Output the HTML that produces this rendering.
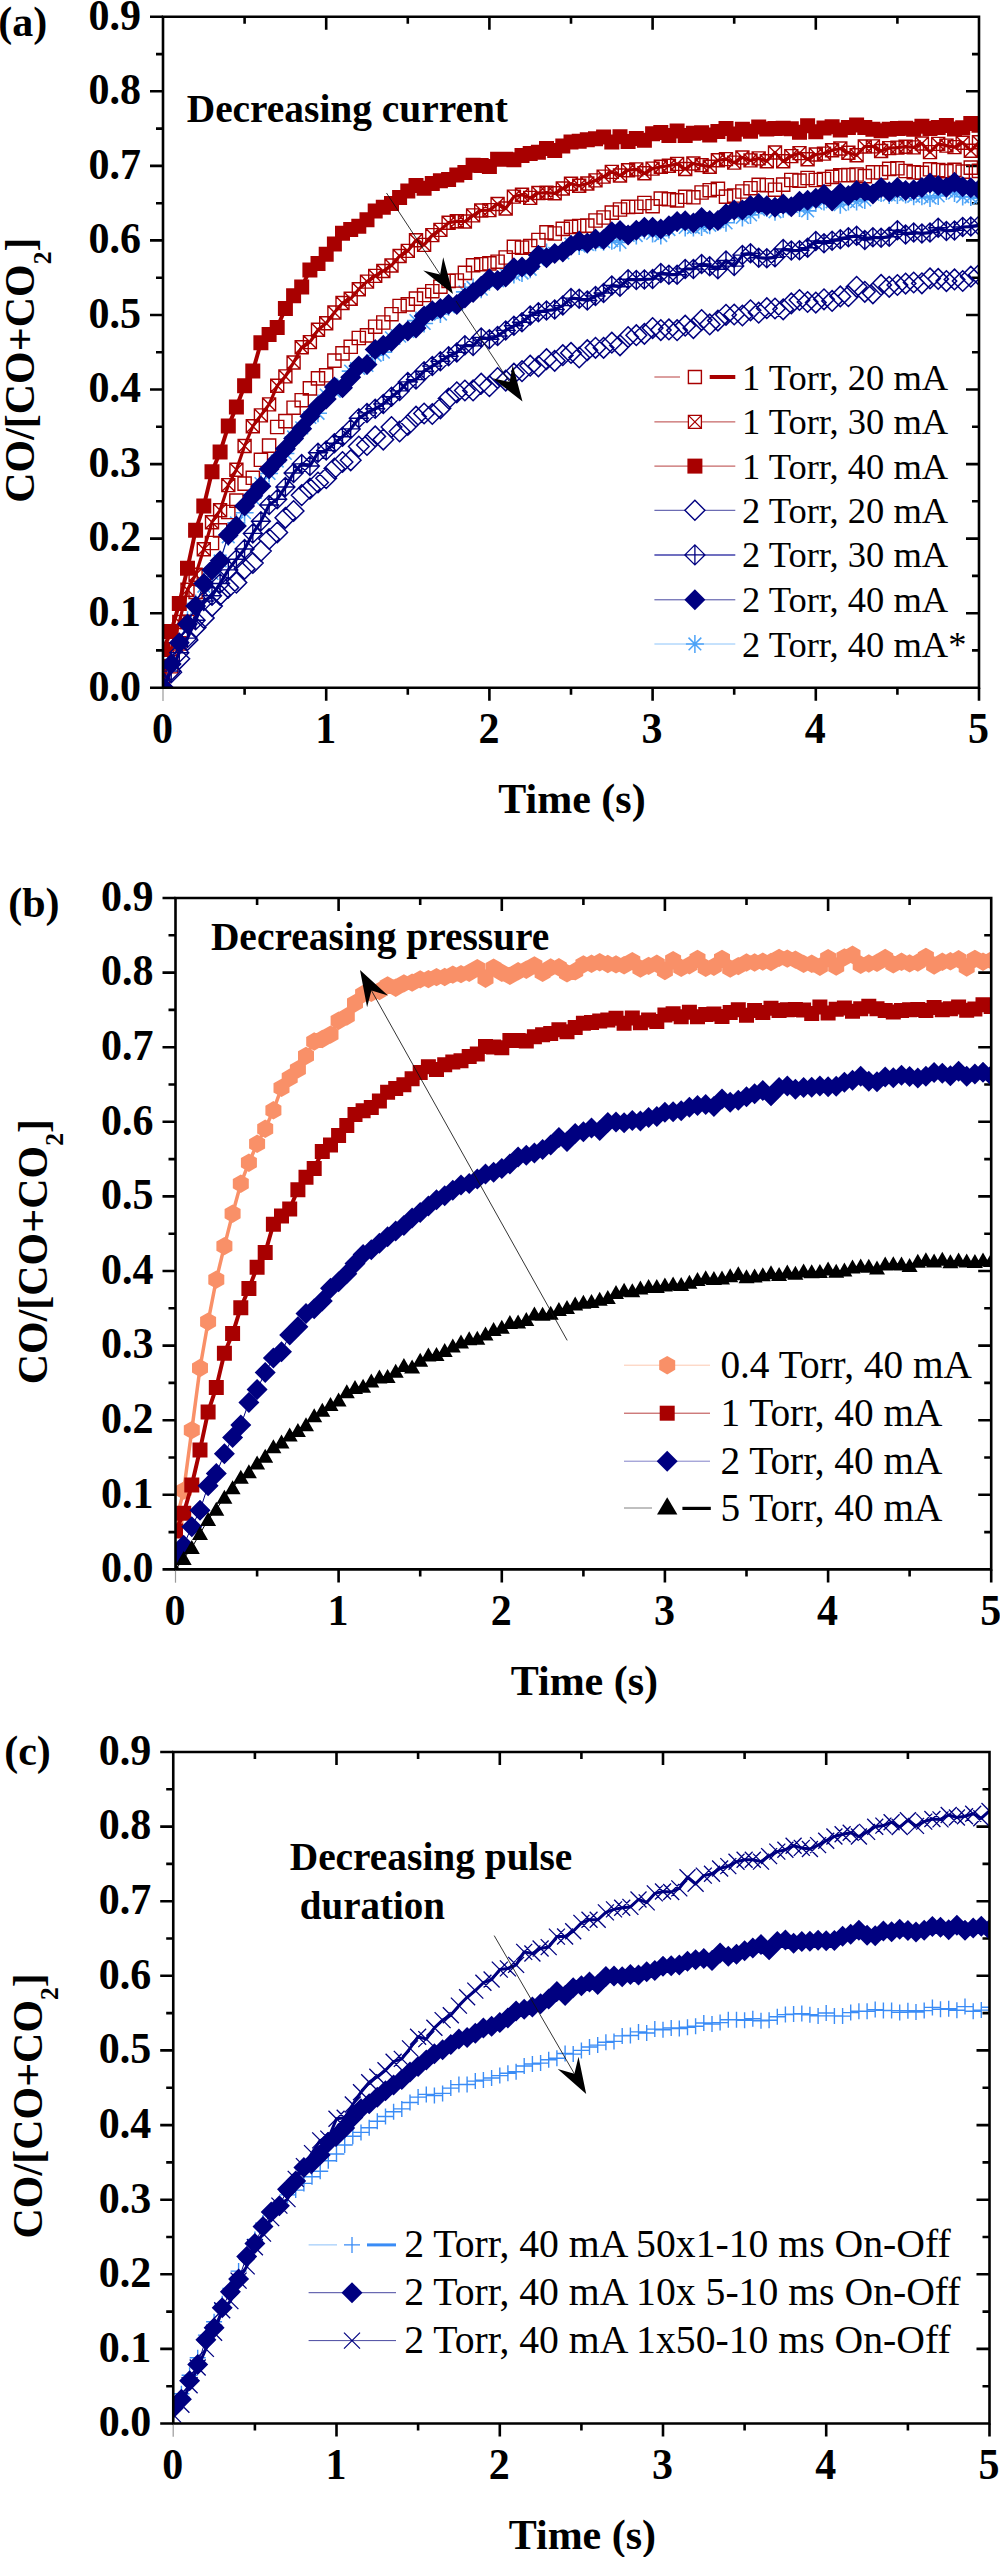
<!DOCTYPE html><html><head><meta charset="utf-8"><style>html,body{margin:0;padding:0;background:#fff;}svg{display:block;}</style></head><body>
<svg width="1000" height="2557" viewBox="0 0 1000 2557">
<rect width="1000" height="2557" fill="#fff"/>
<defs><clipPath id="ca"><rect x="163.0" y="16.8" width="816.0" height="670.9000000000001"/></clipPath><clipPath id="cb"><rect x="175.5" y="898.0" width="815.7" height="671.4000000000001"/></clipPath><clipPath id="cc"><rect x="173.25" y="1752.0" width="816.25" height="671.5"/></clipPath></defs>
<path d="M244.6 16.8v7M326.2 16.8v13M407.8 16.8v7M489.4 16.8v13M571 16.8v7M652.6 16.8v13M734.2 16.8v7M815.8 16.8v13M897.4 16.8v7M979 650.4h-7M979 613.2h-13M979 575.9h-7M979 538.6h-13M979 501.3h-7M979 464.1h-13M979 426.8h-7M979 389.5h-13M979 352.2h-7M979 315h-13M979 277.7h-7M979 240.4h-13M979 203.2h-7M979 165.9h-13M979 128.6h-7M979 91.3h-13M979 54.1h-7" stroke="#000" stroke-width="2.6" fill="none"/>
<g clip-path="url(#ca)"><path d="M163 686.3 171.2 665.2 179.3 642.9 187.5 620.2 195.6 603.6 203.8 586.3 212 573.3 220.1 560.9 228.3 536.8 236.4 522.9 244.6 512.7 252.8 498.1 260.9 483.7 269.1 473.5 277.2 461.1 285.4 453.5 293.6 436.9 301.7 427.9 309.9 417.4 318 413.3 326.2 395.2 334.4 391.2 342.5 384.8 350.7 371.1 358.8 368.5 367 365.4 375.2 355.3 383.3 352.1 391.5 337.9 399.6 336.1 407.8 331.4 416 320.6 424.1 323.5 432.3 312.3 440.4 314 448.6 306.8 456.8 304.1 464.9 291.9 473.1 287.4 481.2 289.2 489.4 281.7 497.6 280.8 505.7 274.5 513.9 274.5 522 273.1 530.2 269.2 538.4 259.7 546.5 252.6 554.7 253.5 562.8 253 571 244.2 579.2 246.1 587.3 244.5 595.5 242.2 603.6 241.7 611.8 240.7 620 242.5 628.1 235.3 636.3 235.6 644.4 230.3 652.6 233.4 660.8 235.6 668.9 229.6 677.1 223.1 685.2 227.5 693.4 227.6 701.6 227.1 709.7 225.2 717.9 221.6 726 222.8 734.2 213.5 742.4 217.4 750.5 214.9 758.7 209.5 766.8 208 775 211.7 783.2 208.8 791.3 206.3 799.5 207.9 807.6 210.9 815.8 203.1 824 201.4 832.1 201.7 840.3 204.7 848.4 201.5 856.6 201.6 864.8 199.9 872.9 194.3 881.1 193 889.2 195 897.4 195 905.6 194.4 913.7 196.3 921.9 196.3 930 197.9 938.2 195.9 946.4 190.9 954.5 193 962.7 196.6 970.8 197 979 198.3" fill="none" stroke="#4DA3F7" stroke-width="1.0" stroke-linejoin="round" opacity="1.0"/>
<path d="M163 677.3v18M154 686.3h18M156.6 679.9l12.7 12.7M169.4 679.9l-12.7 12.7M171.2 656.2v18M162.2 665.2h18M164.8 658.8l12.7 12.7M177.5 658.8l-12.7 12.7M179.3 633.9v18M170.3 642.9h18M173 636.6l12.7 12.7M185.7 636.6l-12.7 12.7M187.5 611.2v18M178.5 620.2h18M181.1 613.8l12.7 12.7M193.8 613.8l-12.7 12.7M195.6 594.6v18M186.6 603.6h18M189.3 597.3l12.7 12.7M202 597.3l-12.7 12.7M203.8 577.3v18M194.8 586.3h18M197.4 579.9l12.7 12.7M210.2 579.9l-12.7 12.7M212 564.3v18M203 573.3h18M205.6 567l12.7 12.7M218.3 567l-12.7 12.7M220.1 551.9v18M211.1 560.9h18M213.8 554.6l12.7 12.7M226.5 554.6l-12.7 12.7M228.3 527.8v18M219.3 536.8h18M221.9 530.4l12.7 12.7M234.6 530.4l-12.7 12.7M236.4 513.9v18M227.4 522.9h18M230.1 516.6l12.7 12.7M242.8 516.6l-12.7 12.7M244.6 503.7v18M235.6 512.7h18M238.2 506.3l12.7 12.7M251 506.3l-12.7 12.7M252.8 489.1v18M243.8 498.1h18M246.4 491.8l12.7 12.7M259.1 491.8l-12.7 12.7M260.9 474.7v18M251.9 483.7h18M254.6 477.3l12.7 12.7M267.3 477.3l-12.7 12.7M269.1 464.5v18M260.1 473.5h18M262.7 467.1l12.7 12.7M275.4 467.1l-12.7 12.7M277.2 452.1v18M268.2 461.1h18M270.9 454.7l12.7 12.7M283.6 454.7l-12.7 12.7M285.4 444.5v18M276.4 453.5h18M279 447.1l12.7 12.7M291.8 447.1l-12.7 12.7M293.6 427.9v18M284.6 436.9h18M287.2 430.6l12.7 12.7M299.9 430.6l-12.7 12.7M301.7 418.9v18M292.7 427.9h18M295.4 421.5l12.7 12.7M308.1 421.5l-12.7 12.7M309.9 408.4v18M300.9 417.4h18M303.5 411l12.7 12.7M316.2 411l-12.7 12.7M318 404.3v18M309 413.3h18M311.7 406.9l12.7 12.7M324.4 406.9l-12.7 12.7M326.2 386.2v18M317.2 395.2h18M319.8 388.8l12.7 12.7M332.6 388.8l-12.7 12.7M334.4 382.2v18M325.4 391.2h18M328 384.9l12.7 12.7M340.7 384.9l-12.7 12.7M342.5 375.8v18M333.5 384.8h18M336.2 378.4l12.7 12.7M348.9 378.4l-12.7 12.7M350.7 362.1v18M341.7 371.1h18M344.3 364.7l12.7 12.7M357 364.7l-12.7 12.7M358.8 359.5v18M349.8 368.5h18M352.5 362.1l12.7 12.7M365.2 362.1l-12.7 12.7M367 356.4v18M358 365.4h18M360.6 359l12.7 12.7M373.4 359l-12.7 12.7M375.2 346.3v18M366.2 355.3h18M368.8 348.9l12.7 12.7M381.5 348.9l-12.7 12.7M383.3 343.1v18M374.3 352.1h18M377 345.8l12.7 12.7M389.7 345.8l-12.7 12.7M391.5 328.9v18M382.5 337.9h18M385.1 331.5l12.7 12.7M397.8 331.5l-12.7 12.7M399.6 327.1v18M390.6 336.1h18M393.3 329.8l12.7 12.7M406 329.8l-12.7 12.7M407.8 322.4v18M398.8 331.4h18M401.4 325l12.7 12.7M414.2 325l-12.7 12.7M416 311.6v18M407 320.6h18M409.6 314.2l12.7 12.7M422.3 314.2l-12.7 12.7M424.1 314.5v18M415.1 323.5h18M417.8 317.1l12.7 12.7M430.5 317.1l-12.7 12.7M432.3 303.3v18M423.3 312.3h18M425.9 305.9l12.7 12.7M438.6 305.9l-12.7 12.7M440.4 305v18M431.4 314h18M434.1 307.7l12.7 12.7M446.8 307.7l-12.7 12.7M448.6 297.8v18M439.6 306.8h18M442.2 300.4l12.7 12.7M455 300.4l-12.7 12.7M456.8 295.1v18M447.8 304.1h18M450.4 297.7l12.7 12.7M463.1 297.7l-12.7 12.7M464.9 282.9v18M455.9 291.9h18M458.6 285.6l12.7 12.7M471.3 285.6l-12.7 12.7M473.1 278.4v18M464.1 287.4h18M466.7 281.1l12.7 12.7M479.4 281.1l-12.7 12.7M481.2 280.2v18M472.2 289.2h18M474.9 282.8l12.7 12.7M487.6 282.8l-12.7 12.7M489.4 272.7v18M480.4 281.7h18M483 275.3l12.7 12.7M495.8 275.3l-12.7 12.7M497.6 271.8v18M488.6 280.8h18M491.2 274.4l12.7 12.7M503.9 274.4l-12.7 12.7M505.7 265.5v18M496.7 274.5h18M499.4 268.1l12.7 12.7M512.1 268.1l-12.7 12.7M513.9 265.5v18M504.9 274.5h18M507.5 268.1l12.7 12.7M520.2 268.1l-12.7 12.7M522 264.1v18M513 273.1h18M515.7 266.7l12.7 12.7M528.4 266.7l-12.7 12.7M530.2 260.2v18M521.2 269.2h18M523.8 262.9l12.7 12.7M536.6 262.9l-12.7 12.7M538.4 250.7v18M529.4 259.7h18M532 253.3l12.7 12.7M544.7 253.3l-12.7 12.7M546.5 243.6v18M537.5 252.6h18M540.2 246.3l12.7 12.7M552.9 246.3l-12.7 12.7M554.7 244.5v18M545.7 253.5h18M548.3 247.1l12.7 12.7M561 247.1l-12.7 12.7M562.8 244v18M553.8 253h18M556.5 246.6l12.7 12.7M569.2 246.6l-12.7 12.7M571 235.2v18M562 244.2h18M564.6 237.8l12.7 12.7M577.4 237.8l-12.7 12.7M579.2 237.1v18M570.2 246.1h18M572.8 239.7l12.7 12.7M585.5 239.7l-12.7 12.7M587.3 235.5v18M578.3 244.5h18M581 238.1l12.7 12.7M593.7 238.1l-12.7 12.7M595.5 233.2v18M586.5 242.2h18M589.1 235.9l12.7 12.7M601.8 235.9l-12.7 12.7M603.6 232.7v18M594.6 241.7h18M597.3 235.3l12.7 12.7M610 235.3l-12.7 12.7M611.8 231.7v18M602.8 240.7h18M605.4 234.3l12.7 12.7M618.2 234.3l-12.7 12.7M620 233.5v18M611 242.5h18M613.6 236.1l12.7 12.7M626.3 236.1l-12.7 12.7M628.1 226.3v18M619.1 235.3h18M621.8 228.9l12.7 12.7M634.5 228.9l-12.7 12.7M636.3 226.6v18M627.3 235.6h18M629.9 229.2l12.7 12.7M642.6 229.2l-12.7 12.7M644.4 221.3v18M635.4 230.3h18M638.1 223.9l12.7 12.7M650.8 223.9l-12.7 12.7M652.6 224.4v18M643.6 233.4h18M646.2 227.1l12.7 12.7M659 227.1l-12.7 12.7M660.8 226.6v18M651.8 235.6h18M654.4 229.2l12.7 12.7M667.1 229.2l-12.7 12.7M668.9 220.6v18M659.9 229.6h18M662.6 223.2l12.7 12.7M675.3 223.2l-12.7 12.7M677.1 214.1v18M668.1 223.1h18M670.7 216.7l12.7 12.7M683.4 216.7l-12.7 12.7M685.2 218.5v18M676.2 227.5h18M678.9 221.1l12.7 12.7M691.6 221.1l-12.7 12.7M693.4 218.6v18M684.4 227.6h18M687 221.2l12.7 12.7M699.8 221.2l-12.7 12.7M701.6 218.1v18M692.6 227.1h18M695.2 220.7l12.7 12.7M707.9 220.7l-12.7 12.7M709.7 216.2v18M700.7 225.2h18M703.4 218.9l12.7 12.7M716.1 218.9l-12.7 12.7M717.9 212.6v18M708.9 221.6h18M711.5 215.2l12.7 12.7M724.2 215.2l-12.7 12.7M726 213.8v18M717 222.8h18M719.7 216.5l12.7 12.7M732.4 216.5l-12.7 12.7M734.2 204.5v18M725.2 213.5h18M727.8 207.1l12.7 12.7M740.6 207.1l-12.7 12.7M742.4 208.4v18M733.4 217.4h18M736 211.1l12.7 12.7M748.7 211.1l-12.7 12.7M750.5 205.9v18M741.5 214.9h18M744.2 208.5l12.7 12.7M756.9 208.5l-12.7 12.7M758.7 200.5v18M749.7 209.5h18M752.3 203.2l12.7 12.7M765 203.2l-12.7 12.7M766.8 199v18M757.8 208h18M760.5 201.6l12.7 12.7M773.2 201.6l-12.7 12.7M775 202.7v18M766 211.7h18M768.6 205.4l12.7 12.7M781.4 205.4l-12.7 12.7M783.2 199.8v18M774.2 208.8h18M776.8 202.4l12.7 12.7M789.5 202.4l-12.7 12.7M791.3 197.3v18M782.3 206.3h18M785 200l12.7 12.7M797.7 200l-12.7 12.7M799.5 198.9v18M790.5 207.9h18M793.1 201.5l12.7 12.7M805.8 201.5l-12.7 12.7M807.6 201.9v18M798.6 210.9h18M801.3 204.6l12.7 12.7M814 204.6l-12.7 12.7M815.8 194.1v18M806.8 203.1h18M809.4 196.8l12.7 12.7M822.2 196.8l-12.7 12.7M824 192.4v18M815 201.4h18M817.6 195l12.7 12.7M830.3 195l-12.7 12.7M832.1 192.7v18M823.1 201.7h18M825.8 195.4l12.7 12.7M838.5 195.4l-12.7 12.7M840.3 195.7v18M831.3 204.7h18M833.9 198.3l12.7 12.7M846.6 198.3l-12.7 12.7M848.4 192.5v18M839.4 201.5h18M842.1 195.1l12.7 12.7M854.8 195.1l-12.7 12.7M856.6 192.6v18M847.6 201.6h18M850.2 195.3l12.7 12.7M863 195.3l-12.7 12.7M864.8 190.9v18M855.8 199.9h18M858.4 193.5l12.7 12.7M871.1 193.5l-12.7 12.7M872.9 185.3v18M863.9 194.3h18M866.6 188l12.7 12.7M879.3 188l-12.7 12.7M881.1 184v18M872.1 193h18M874.7 186.6l12.7 12.7M887.4 186.6l-12.7 12.7M889.2 186v18M880.2 195h18M882.9 188.6l12.7 12.7M895.6 188.6l-12.7 12.7M897.4 186v18M888.4 195h18M891 188.7l12.7 12.7M903.8 188.7l-12.7 12.7M905.6 185.4v18M896.6 194.4h18M899.2 188.1l12.7 12.7M911.9 188.1l-12.7 12.7M913.7 187.3v18M904.7 196.3h18M907.4 189.9l12.7 12.7M920.1 189.9l-12.7 12.7M921.9 187.3v18M912.9 196.3h18M915.5 189.9l12.7 12.7M928.2 189.9l-12.7 12.7M930 188.9v18M921 197.9h18M923.7 191.5l12.7 12.7M936.4 191.5l-12.7 12.7M938.2 186.9v18M929.2 195.9h18M931.8 189.5l12.7 12.7M944.6 189.5l-12.7 12.7M946.4 181.9v18M937.4 190.9h18M940 184.5l12.7 12.7M952.7 184.5l-12.7 12.7M954.5 184v18M945.5 193h18M948.2 186.6l12.7 12.7M960.9 186.6l-12.7 12.7M962.7 187.6v18M953.7 196.6h18M956.3 190.2l12.7 12.7M969 190.2l-12.7 12.7M970.8 188v18M961.8 197h18M964.5 190.7l12.7 12.7M977.2 190.7l-12.7 12.7M979 189.3v18M970 198.3h18M972.6 191.9l12.7 12.7M985.4 191.9l-12.7 12.7" fill="none" stroke="#4DA3F7" stroke-width="1.6"/>
<path d="M156.4 679.7h13.2v13.2h-13.2zM164.6 659.7h13.2v13.2h-13.2zM172.7 636.8h13.2v13.2h-13.2zM180.9 615.3h13.2v13.2h-13.2zM189 585.3h13.2v13.2h-13.2zM197.2 569h13.2v13.2h-13.2zM205.4 536.4h13.2v13.2h-13.2zM213.5 523.8h13.2v13.2h-13.2zM221.7 505.4h13.2v13.2h-13.2zM229.8 494h13.2v13.2h-13.2zM238 477h13.2v13.2h-13.2zM246.2 471.2h13.2v13.2h-13.2zM254.3 453.2h13.2v13.2h-13.2zM262.5 439h13.2v13.2h-13.2zM270.6 420.4h13.2v13.2h-13.2zM278.8 414.5h13.2v13.2h-13.2zM287 401.1h13.2v13.2h-13.2zM295.1 393.6h13.2v13.2h-13.2zM303.3 381.8h13.2v13.2h-13.2zM311.4 371.8h13.2v13.2h-13.2zM319.6 368.7h13.2v13.2h-13.2zM327.8 354h13.2v13.2h-13.2zM335.9 346.8h13.2v13.2h-13.2zM344.1 340.2h13.2v13.2h-13.2zM352.2 331.4h13.2v13.2h-13.2zM360.4 328.8h13.2v13.2h-13.2zM368.6 320.1h13.2v13.2h-13.2zM376.7 315.9h13.2v13.2h-13.2zM384.9 307.6h13.2v13.2h-13.2zM393 299.4h13.2v13.2h-13.2zM401.2 297.8h13.2v13.2h-13.2zM409.4 292h13.2v13.2h-13.2zM417.5 288.4h13.2v13.2h-13.2zM425.7 284.6h13.2v13.2h-13.2zM433.8 280.1h13.2v13.2h-13.2zM442 274.3h13.2v13.2h-13.2zM450.2 273.9h13.2v13.2h-13.2zM458.3 266.3h13.2v13.2h-13.2zM466.5 258.7h13.2v13.2h-13.2zM474.6 257.6h13.2v13.2h-13.2zM482.8 256.8h13.2v13.2h-13.2zM491 255.1h13.2v13.2h-13.2zM499.1 250.9h13.2v13.2h-13.2zM507.3 240.2h13.2v13.2h-13.2zM515.4 241.1h13.2v13.2h-13.2zM523.6 239.5h13.2v13.2h-13.2zM531.8 233.4h13.2v13.2h-13.2zM539.9 225.8h13.2v13.2h-13.2zM548.1 226.9h13.2v13.2h-13.2zM556.2 222.3h13.2v13.2h-13.2zM564.4 220.3h13.2v13.2h-13.2zM572.6 219.4h13.2v13.2h-13.2zM580.7 219h13.2v13.2h-13.2zM588.9 213.9h13.2v13.2h-13.2zM597 210.9h13.2v13.2h-13.2zM605.2 206h13.2v13.2h-13.2zM613.4 202.9h13.2v13.2h-13.2zM621.5 200.3h13.2v13.2h-13.2zM629.7 200.1h13.2v13.2h-13.2zM637.8 196.4h13.2v13.2h-13.2zM646 199.6h13.2v13.2h-13.2zM654.2 192h13.2v13.2h-13.2zM662.3 192.7h13.2v13.2h-13.2zM670.5 193.8h13.2v13.2h-13.2zM678.6 190.2h13.2v13.2h-13.2zM686.8 190.7h13.2v13.2h-13.2zM695 185.9h13.2v13.2h-13.2zM703.1 183.6h13.2v13.2h-13.2zM711.3 182.2h13.2v13.2h-13.2zM719.4 190h13.2v13.2h-13.2zM727.6 188.9h13.2v13.2h-13.2zM735.8 184.9h13.2v13.2h-13.2zM743.9 181.6h13.2v13.2h-13.2zM752.1 178.2h13.2v13.2h-13.2zM760.2 178.6h13.2v13.2h-13.2zM768.4 183.1h13.2v13.2h-13.2zM776.6 178h13.2v13.2h-13.2zM784.7 173.4h13.2v13.2h-13.2zM792.9 174h13.2v13.2h-13.2zM801 171.4h13.2v13.2h-13.2zM809.2 173.4h13.2v13.2h-13.2zM817.4 172.4h13.2v13.2h-13.2zM825.5 170.3h13.2v13.2h-13.2zM833.7 168.7h13.2v13.2h-13.2zM841.8 168.5h13.2v13.2h-13.2zM850 167.9h13.2v13.2h-13.2zM858.2 169.5h13.2v13.2h-13.2zM866.3 165.7h13.2v13.2h-13.2zM874.5 165.8h13.2v13.2h-13.2zM882.6 162.3h13.2v13.2h-13.2zM890.8 161.7h13.2v13.2h-13.2zM899 164.4h13.2v13.2h-13.2zM907.1 165.7h13.2v13.2h-13.2zM915.3 166.2h13.2v13.2h-13.2zM923.4 162.7h13.2v13.2h-13.2zM931.6 163.5h13.2v13.2h-13.2zM939.8 164.5h13.2v13.2h-13.2zM947.9 163.2h13.2v13.2h-13.2zM956.1 165h13.2v13.2h-13.2zM964.2 161h13.2v13.2h-13.2zM972.4 164.3h13.2v13.2h-13.2z" fill="none" stroke="#A80000" stroke-width="1.4"/>
<path d="M163 680.6 171.2 649.3 179.3 622 187.5 589.7 195.6 574.7 203.8 549.3 212 522.2 220.1 510.3 228.3 485.1 236.4 469.8 244.6 446 252.8 426.3 260.9 415.4 269.1 404.4 277.2 385.8 285.4 376.4 293.6 362.5 301.7 347.3 309.9 342.1 318 329.8 326.2 323.2 334.4 312.5 342.5 303 350.7 298.7 358.8 289.2 367 281.6 375.2 275.9 383.3 271 391.5 265.5 399.6 256 407.8 250.9 416 240.3 424.1 244.9 432.3 235.1 440.4 229.9 448.6 222.7 456.8 221.3 464.9 221.5 473.1 215.4 481.2 210.5 489.4 210.1 497.6 204 505.7 208.5 513.9 196.6 522 194.7 530.2 197.9 538.4 193 546.5 192.7 554.7 193.3 562.8 188.5 571 183.8 579.2 185.8 587.3 183.5 595.5 180.4 603.6 176.6 611.8 171.9 620 175.5 628.1 170.2 636.3 169.4 644.4 173.3 652.6 168.6 660.8 166.8 668.9 165.7 677.1 163.9 685.2 169 693.4 163.5 701.6 165.1 709.7 166.8 717.9 160.3 726 159.1 734.2 162.6 742.4 157.5 750.5 160.4 758.7 158.4 766.8 161.2 775 152.5 783.2 161.3 791.3 156.1 799.5 153.1 807.6 159.3 815.8 154.5 824 153.6 832.1 150.3 840.3 148.5 848.4 152.8 856.6 155.2 864.8 146.5 872.9 146.4 881.1 151 889.2 148.1 897.4 147.6 905.6 146.7 913.7 147.4 921.9 143.5 930 152.1 938.2 143.9 946.4 145.6 954.5 147.1 962.7 142.7 970.8 150.7 979 142.3" fill="none" stroke="#A80000" stroke-width="3.2" stroke-linejoin="round" opacity="1.0"/>
<path d="M156.5 674.1h13v13h-13zM156.5 674.1l13 13M169.5 674.1l-13 13M164.7 642.8h13v13h-13zM164.7 642.8l13 13M177.7 642.8l-13 13M172.8 615.5h13v13h-13zM172.8 615.5l13 13M185.8 615.5l-13 13M181 583.2h13v13h-13zM181 583.2l13 13M194 583.2l-13 13M189.1 568.2h13v13h-13zM189.1 568.2l13 13M202.1 568.2l-13 13M197.3 542.8h13v13h-13zM197.3 542.8l13 13M210.3 542.8l-13 13M205.5 515.7h13v13h-13zM205.5 515.7l13 13M218.5 515.7l-13 13M213.6 503.8h13v13h-13zM213.6 503.8l13 13M226.6 503.8l-13 13M221.8 478.6h13v13h-13zM221.8 478.6l13 13M234.8 478.6l-13 13M229.9 463.3h13v13h-13zM229.9 463.3l13 13M242.9 463.3l-13 13M238.1 439.5h13v13h-13zM238.1 439.5l13 13M251.1 439.5l-13 13M246.3 419.8h13v13h-13zM246.3 419.8l13 13M259.3 419.8l-13 13M254.4 408.9h13v13h-13zM254.4 408.9l13 13M267.4 408.9l-13 13M262.6 397.9h13v13h-13zM262.6 397.9l13 13M275.6 397.9l-13 13M270.7 379.3h13v13h-13zM270.7 379.3l13 13M283.7 379.3l-13 13M278.9 369.9h13v13h-13zM278.9 369.9l13 13M291.9 369.9l-13 13M287.1 356h13v13h-13zM287.1 356l13 13M300.1 356l-13 13M295.2 340.8h13v13h-13zM295.2 340.8l13 13M308.2 340.8l-13 13M303.4 335.6h13v13h-13zM303.4 335.6l13 13M316.4 335.6l-13 13M311.5 323.3h13v13h-13zM311.5 323.3l13 13M324.5 323.3l-13 13M319.7 316.7h13v13h-13zM319.7 316.7l13 13M332.7 316.7l-13 13M327.9 306h13v13h-13zM327.9 306l13 13M340.9 306l-13 13M336 296.5h13v13h-13zM336 296.5l13 13M349 296.5l-13 13M344.2 292.2h13v13h-13zM344.2 292.2l13 13M357.2 292.2l-13 13M352.3 282.7h13v13h-13zM352.3 282.7l13 13M365.3 282.7l-13 13M360.5 275.1h13v13h-13zM360.5 275.1l13 13M373.5 275.1l-13 13M368.7 269.4h13v13h-13zM368.7 269.4l13 13M381.7 269.4l-13 13M376.8 264.5h13v13h-13zM376.8 264.5l13 13M389.8 264.5l-13 13M385 259h13v13h-13zM385 259l13 13M398 259l-13 13M393.1 249.5h13v13h-13zM393.1 249.5l13 13M406.1 249.5l-13 13M401.3 244.4h13v13h-13zM401.3 244.4l13 13M414.3 244.4l-13 13M409.5 233.8h13v13h-13zM409.5 233.8l13 13M422.5 233.8l-13 13M417.6 238.4h13v13h-13zM417.6 238.4l13 13M430.6 238.4l-13 13M425.8 228.6h13v13h-13zM425.8 228.6l13 13M438.8 228.6l-13 13M433.9 223.4h13v13h-13zM433.9 223.4l13 13M446.9 223.4l-13 13M442.1 216.2h13v13h-13zM442.1 216.2l13 13M455.1 216.2l-13 13M450.3 214.8h13v13h-13zM450.3 214.8l13 13M463.3 214.8l-13 13M458.4 215h13v13h-13zM458.4 215l13 13M471.4 215l-13 13M466.6 208.9h13v13h-13zM466.6 208.9l13 13M479.6 208.9l-13 13M474.7 204h13v13h-13zM474.7 204l13 13M487.7 204l-13 13M482.9 203.6h13v13h-13zM482.9 203.6l13 13M495.9 203.6l-13 13M491.1 197.5h13v13h-13zM491.1 197.5l13 13M504.1 197.5l-13 13M499.2 202h13v13h-13zM499.2 202l13 13M512.2 202l-13 13M507.4 190.1h13v13h-13zM507.4 190.1l13 13M520.4 190.1l-13 13M515.5 188.2h13v13h-13zM515.5 188.2l13 13M528.5 188.2l-13 13M523.7 191.4h13v13h-13zM523.7 191.4l13 13M536.7 191.4l-13 13M531.9 186.5h13v13h-13zM531.9 186.5l13 13M544.9 186.5l-13 13M540 186.2h13v13h-13zM540 186.2l13 13M553 186.2l-13 13M548.2 186.8h13v13h-13zM548.2 186.8l13 13M561.2 186.8l-13 13M556.3 182h13v13h-13zM556.3 182l13 13M569.3 182l-13 13M564.5 177.3h13v13h-13zM564.5 177.3l13 13M577.5 177.3l-13 13M572.7 179.3h13v13h-13zM572.7 179.3l13 13M585.7 179.3l-13 13M580.8 177h13v13h-13zM580.8 177l13 13M593.8 177l-13 13M589 173.9h13v13h-13zM589 173.9l13 13M602 173.9l-13 13M597.1 170.1h13v13h-13zM597.1 170.1l13 13M610.1 170.1l-13 13M605.3 165.4h13v13h-13zM605.3 165.4l13 13M618.3 165.4l-13 13M613.5 169h13v13h-13zM613.5 169l13 13M626.5 169l-13 13M621.6 163.7h13v13h-13zM621.6 163.7l13 13M634.6 163.7l-13 13M629.8 162.9h13v13h-13zM629.8 162.9l13 13M642.8 162.9l-13 13M637.9 166.8h13v13h-13zM637.9 166.8l13 13M650.9 166.8l-13 13M646.1 162.1h13v13h-13zM646.1 162.1l13 13M659.1 162.1l-13 13M654.3 160.3h13v13h-13zM654.3 160.3l13 13M667.3 160.3l-13 13M662.4 159.2h13v13h-13zM662.4 159.2l13 13M675.4 159.2l-13 13M670.6 157.4h13v13h-13zM670.6 157.4l13 13M683.6 157.4l-13 13M678.7 162.5h13v13h-13zM678.7 162.5l13 13M691.7 162.5l-13 13M686.9 157h13v13h-13zM686.9 157l13 13M699.9 157l-13 13M695.1 158.6h13v13h-13zM695.1 158.6l13 13M708.1 158.6l-13 13M703.2 160.3h13v13h-13zM703.2 160.3l13 13M716.2 160.3l-13 13M711.4 153.8h13v13h-13zM711.4 153.8l13 13M724.4 153.8l-13 13M719.5 152.6h13v13h-13zM719.5 152.6l13 13M732.5 152.6l-13 13M727.7 156.1h13v13h-13zM727.7 156.1l13 13M740.7 156.1l-13 13M735.9 151h13v13h-13zM735.9 151l13 13M748.9 151l-13 13M744 153.9h13v13h-13zM744 153.9l13 13M757 153.9l-13 13M752.2 151.9h13v13h-13zM752.2 151.9l13 13M765.2 151.9l-13 13M760.3 154.7h13v13h-13zM760.3 154.7l13 13M773.3 154.7l-13 13M768.5 146h13v13h-13zM768.5 146l13 13M781.5 146l-13 13M776.7 154.8h13v13h-13zM776.7 154.8l13 13M789.7 154.8l-13 13M784.8 149.6h13v13h-13zM784.8 149.6l13 13M797.8 149.6l-13 13M793 146.6h13v13h-13zM793 146.6l13 13M806 146.6l-13 13M801.1 152.8h13v13h-13zM801.1 152.8l13 13M814.1 152.8l-13 13M809.3 148h13v13h-13zM809.3 148l13 13M822.3 148l-13 13M817.5 147.1h13v13h-13zM817.5 147.1l13 13M830.5 147.1l-13 13M825.6 143.8h13v13h-13zM825.6 143.8l13 13M838.6 143.8l-13 13M833.8 142h13v13h-13zM833.8 142l13 13M846.8 142l-13 13M841.9 146.3h13v13h-13zM841.9 146.3l13 13M854.9 146.3l-13 13M850.1 148.7h13v13h-13zM850.1 148.7l13 13M863.1 148.7l-13 13M858.3 140h13v13h-13zM858.3 140l13 13M871.3 140l-13 13M866.4 139.9h13v13h-13zM866.4 139.9l13 13M879.4 139.9l-13 13M874.6 144.5h13v13h-13zM874.6 144.5l13 13M887.6 144.5l-13 13M882.7 141.6h13v13h-13zM882.7 141.6l13 13M895.7 141.6l-13 13M890.9 141.1h13v13h-13zM890.9 141.1l13 13M903.9 141.1l-13 13M899.1 140.2h13v13h-13zM899.1 140.2l13 13M912.1 140.2l-13 13M907.2 140.9h13v13h-13zM907.2 140.9l13 13M920.2 140.9l-13 13M915.4 137h13v13h-13zM915.4 137l13 13M928.4 137l-13 13M923.5 145.6h13v13h-13zM923.5 145.6l13 13M936.5 145.6l-13 13M931.7 137.4h13v13h-13zM931.7 137.4l13 13M944.7 137.4l-13 13M939.9 139.1h13v13h-13zM939.9 139.1l13 13M952.9 139.1l-13 13M948 140.6h13v13h-13zM948 140.6l13 13M961 140.6l-13 13M956.2 136.2h13v13h-13zM956.2 136.2l13 13M969.2 136.2l-13 13M964.3 144.2h13v13h-13zM964.3 144.2l13 13M977.3 144.2l-13 13M972.5 135.8h13v13h-13zM972.5 135.8l13 13M985.5 135.8l-13 13" fill="none" stroke="#A80000" stroke-width="1.4"/>
<path d="M163 649.4 171.2 631.5 179.3 603.4 187.5 568.3 195.6 530.3 203.8 505.9 212 471.7 220.1 452.1 228.3 426.1 236.4 407 244.6 385.8 252.8 371.1 260.9 342.8 269.1 334.5 277.2 327.5 285.4 308.4 293.6 295.8 301.7 287.1 309.9 270 318 263.6 326.2 254.3 334.4 244.1 342.5 233.2 350.7 229.5 358.8 226.2 367 219.7 375.2 211 383.3 207.2 391.5 203.4 399.6 197.4 407.8 191.1 416 185.4 424.1 188.2 432.3 183.4 440.4 180.7 448.6 179.4 456.8 175.1 464.9 172.6 473.1 165.2 481.2 165.5 489.4 166.5 497.6 159.2 505.7 159.2 513.9 159.8 522 155.5 530.2 153.5 538.4 152.2 546.5 148.5 554.7 150.5 562.8 146.1 571 142 579.2 141.3 587.3 139.7 595.5 138.7 603.6 137 611.8 142 620 136.8 628.1 141.6 636.3 138.6 644.4 140.2 652.6 133.7 660.8 132.5 668.9 135.4 677.1 130.9 685.2 135.5 693.4 133.2 701.6 132.8 709.7 135.1 717.9 131.4 726 128.4 734.2 133.9 742.4 129.2 750.5 131.2 758.7 127 766.8 129.1 775 128.4 783.2 128.2 791.3 128.8 799.5 132.2 807.6 125.7 815.8 131.7 824 127.9 832.1 126.8 840.3 129.9 848.4 127.5 856.6 125 864.8 127.5 872.9 129.3 881.1 130.8 889.2 129.3 897.4 128.4 905.6 128.3 913.7 129.3 921.9 126.3 930 128.4 938.2 127.4 946.4 125.6 954.5 129 962.7 127.8 970.8 123.5 979 125.2" fill="none" stroke="#A80000" stroke-width="4" stroke-linejoin="round" opacity="1.0"/>
<path d="M155.5 641.9h15v15h-15zM163.7 624h15v15h-15zM171.8 595.9h15v15h-15zM180 560.8h15v15h-15zM188.1 522.8h15v15h-15zM196.3 498.4h15v15h-15zM204.5 464.2h15v15h-15zM212.6 444.6h15v15h-15zM220.8 418.6h15v15h-15zM228.9 399.5h15v15h-15zM237.1 378.3h15v15h-15zM245.3 363.6h15v15h-15zM253.4 335.3h15v15h-15zM261.6 327h15v15h-15zM269.7 320h15v15h-15zM277.9 300.9h15v15h-15zM286.1 288.3h15v15h-15zM294.2 279.6h15v15h-15zM302.4 262.5h15v15h-15zM310.5 256.1h15v15h-15zM318.7 246.8h15v15h-15zM326.9 236.6h15v15h-15zM335 225.7h15v15h-15zM343.2 222h15v15h-15zM351.3 218.7h15v15h-15zM359.5 212.2h15v15h-15zM367.7 203.5h15v15h-15zM375.8 199.7h15v15h-15zM384 195.9h15v15h-15zM392.1 189.9h15v15h-15zM400.3 183.6h15v15h-15zM408.5 177.9h15v15h-15zM416.6 180.7h15v15h-15zM424.8 175.9h15v15h-15zM432.9 173.2h15v15h-15zM441.1 171.9h15v15h-15zM449.3 167.6h15v15h-15zM457.4 165.1h15v15h-15zM465.6 157.7h15v15h-15zM473.7 158h15v15h-15zM481.9 159h15v15h-15zM490.1 151.7h15v15h-15zM498.2 151.7h15v15h-15zM506.4 152.3h15v15h-15zM514.5 148h15v15h-15zM522.7 146h15v15h-15zM530.9 144.7h15v15h-15zM539 141h15v15h-15zM547.2 143h15v15h-15zM555.3 138.6h15v15h-15zM563.5 134.5h15v15h-15zM571.7 133.8h15v15h-15zM579.8 132.2h15v15h-15zM588 131.2h15v15h-15zM596.1 129.5h15v15h-15zM604.3 134.5h15v15h-15zM612.5 129.3h15v15h-15zM620.6 134.1h15v15h-15zM628.8 131.1h15v15h-15zM636.9 132.7h15v15h-15zM645.1 126.2h15v15h-15zM653.3 125h15v15h-15zM661.4 127.9h15v15h-15zM669.6 123.4h15v15h-15zM677.7 128h15v15h-15zM685.9 125.7h15v15h-15zM694.1 125.3h15v15h-15zM702.2 127.6h15v15h-15zM710.4 123.9h15v15h-15zM718.5 120.9h15v15h-15zM726.7 126.4h15v15h-15zM734.9 121.7h15v15h-15zM743 123.7h15v15h-15zM751.2 119.5h15v15h-15zM759.3 121.6h15v15h-15zM767.5 120.9h15v15h-15zM775.7 120.7h15v15h-15zM783.8 121.3h15v15h-15zM792 124.7h15v15h-15zM800.1 118.2h15v15h-15zM808.3 124.2h15v15h-15zM816.5 120.4h15v15h-15zM824.6 119.3h15v15h-15zM832.8 122.4h15v15h-15zM840.9 120h15v15h-15zM849.1 117.5h15v15h-15zM857.3 120h15v15h-15zM865.4 121.8h15v15h-15zM873.6 123.3h15v15h-15zM881.7 121.8h15v15h-15zM889.9 120.9h15v15h-15zM898.1 120.8h15v15h-15zM906.2 121.8h15v15h-15zM914.4 118.8h15v15h-15zM922.5 120.9h15v15h-15zM930.7 119.9h15v15h-15zM938.9 118.1h15v15h-15zM947 121.5h15v15h-15zM955.2 120.3h15v15h-15zM963.3 116h15v15h-15zM971.5 117.7h15v15h-15z" fill="#A80000"/>
<path d="M163 677.4l10.3 10.3l-10.3 10.3l-10.3 -10.3zM171.2 662l10.3 10.3l-10.3 10.3l-10.3 -10.3zM179.3 648.5l10.3 10.3l-10.3 10.3l-10.3 -10.3zM187.5 629.6l10.3 10.3l-10.3 10.3l-10.3 -10.3zM195.6 617.1l10.3 10.3l-10.3 10.3l-10.3 -10.3zM203.8 607.6l10.3 10.3l-10.3 10.3l-10.3 -10.3zM212 595.8l10.3 10.3l-10.3 10.3l-10.3 -10.3zM220.1 584.6l10.3 10.3l-10.3 10.3l-10.3 -10.3zM228.3 577.3l10.3 10.3l-10.3 10.3l-10.3 -10.3zM236.4 572.3l10.3 10.3l-10.3 10.3l-10.3 -10.3zM244.6 558.5l10.3 10.3l-10.3 10.3l-10.3 -10.3zM252.8 552.7l10.3 10.3l-10.3 10.3l-10.3 -10.3zM260.9 540.7l10.3 10.3l-10.3 10.3l-10.3 -10.3zM269.1 528.7l10.3 10.3l-10.3 10.3l-10.3 -10.3zM277.2 522.2l10.3 10.3l-10.3 10.3l-10.3 -10.3zM285.4 507.5l10.3 10.3l-10.3 10.3l-10.3 -10.3zM293.6 500.7l10.3 10.3l-10.3 10.3l-10.3 -10.3zM301.7 484.9l10.3 10.3l-10.3 10.3l-10.3 -10.3zM309.9 478.4l10.3 10.3l-10.3 10.3l-10.3 -10.3zM318 472.2l10.3 10.3l-10.3 10.3l-10.3 -10.3zM326.2 467.9l10.3 10.3l-10.3 10.3l-10.3 -10.3zM334.4 458.2l10.3 10.3l-10.3 10.3l-10.3 -10.3zM342.5 451.7l10.3 10.3l-10.3 10.3l-10.3 -10.3zM350.7 450l10.3 10.3l-10.3 10.3l-10.3 -10.3zM358.8 436.2l10.3 10.3l-10.3 10.3l-10.3 -10.3zM367 434.7l10.3 10.3l-10.3 10.3l-10.3 -10.3zM375.2 426.1l10.3 10.3l-10.3 10.3l-10.3 -10.3zM383.3 429.3l10.3 10.3l-10.3 10.3l-10.3 -10.3zM391.5 416.7l10.3 10.3l-10.3 10.3l-10.3 -10.3zM399.6 421.2l10.3 10.3l-10.3 10.3l-10.3 -10.3zM407.8 414.7l10.3 10.3l-10.3 10.3l-10.3 -10.3zM416 406.4l10.3 10.3l-10.3 10.3l-10.3 -10.3zM424.1 403.2l10.3 10.3l-10.3 10.3l-10.3 -10.3zM432.3 403.7l10.3 10.3l-10.3 10.3l-10.3 -10.3zM440.4 398l10.3 10.3l-10.3 10.3l-10.3 -10.3zM448.6 388.2l10.3 10.3l-10.3 10.3l-10.3 -10.3zM456.8 382l10.3 10.3l-10.3 10.3l-10.3 -10.3zM464.9 380.2l10.3 10.3l-10.3 10.3l-10.3 -10.3zM473.1 380.1l10.3 10.3l-10.3 10.3l-10.3 -10.3zM481.2 373.4l10.3 10.3l-10.3 10.3l-10.3 -10.3zM489.4 375.9l10.3 10.3l-10.3 10.3l-10.3 -10.3zM497.6 367.8l10.3 10.3l-10.3 10.3l-10.3 -10.3zM505.7 370.3l10.3 10.3l-10.3 10.3l-10.3 -10.3zM513.9 363.4l10.3 10.3l-10.3 10.3l-10.3 -10.3zM522 360.9l10.3 10.3l-10.3 10.3l-10.3 -10.3zM530.2 355.4l10.3 10.3l-10.3 10.3l-10.3 -10.3zM538.4 356l10.3 10.3l-10.3 10.3l-10.3 -10.3zM546.5 348.9l10.3 10.3l-10.3 10.3l-10.3 -10.3zM554.7 350.5l10.3 10.3l-10.3 10.3l-10.3 -10.3zM562.8 344.9l10.3 10.3l-10.3 10.3l-10.3 -10.3zM571 342.6l10.3 10.3l-10.3 10.3l-10.3 -10.3zM579.2 347.2l10.3 10.3l-10.3 10.3l-10.3 -10.3zM587.3 339.9l10.3 10.3l-10.3 10.3l-10.3 -10.3zM595.5 337.5l10.3 10.3l-10.3 10.3l-10.3 -10.3zM603.6 337.5l10.3 10.3l-10.3 10.3l-10.3 -10.3zM611.8 332.4l10.3 10.3l-10.3 10.3l-10.3 -10.3zM620 335l10.3 10.3l-10.3 10.3l-10.3 -10.3zM628.1 326.8l10.3 10.3l-10.3 10.3l-10.3 -10.3zM636.3 324.9l10.3 10.3l-10.3 10.3l-10.3 -10.3zM644.4 323.5l10.3 10.3l-10.3 10.3l-10.3 -10.3zM652.6 317.8l10.3 10.3l-10.3 10.3l-10.3 -10.3zM660.8 319.8l10.3 10.3l-10.3 10.3l-10.3 -10.3zM668.9 319.1l10.3 10.3l-10.3 10.3l-10.3 -10.3zM677.1 319.9l10.3 10.3l-10.3 10.3l-10.3 -10.3zM685.2 315.4l10.3 10.3l-10.3 10.3l-10.3 -10.3zM693.4 317.8l10.3 10.3l-10.3 10.3l-10.3 -10.3zM701.6 309.8l10.3 10.3l-10.3 10.3l-10.3 -10.3zM709.7 314.1l10.3 10.3l-10.3 10.3l-10.3 -10.3zM717.9 310.3l10.3 10.3l-10.3 10.3l-10.3 -10.3zM726 304.5l10.3 10.3l-10.3 10.3l-10.3 -10.3zM734.2 304.2l10.3 10.3l-10.3 10.3l-10.3 -10.3zM742.4 305.2l10.3 10.3l-10.3 10.3l-10.3 -10.3zM750.5 300l10.3 10.3l-10.3 10.3l-10.3 -10.3zM758.7 302.4l10.3 10.3l-10.3 10.3l-10.3 -10.3zM766.8 297.9l10.3 10.3l-10.3 10.3l-10.3 -10.3zM775 298.2l10.3 10.3l-10.3 10.3l-10.3 -10.3zM783.2 299l10.3 10.3l-10.3 10.3l-10.3 -10.3zM791.3 293.1l10.3 10.3l-10.3 10.3l-10.3 -10.3zM799.5 289.7l10.3 10.3l-10.3 10.3l-10.3 -10.3zM807.6 291.7l10.3 10.3l-10.3 10.3l-10.3 -10.3zM815.8 292.3l10.3 10.3l-10.3 10.3l-10.3 -10.3zM824 289l10.3 10.3l-10.3 10.3l-10.3 -10.3zM832.1 290.6l10.3 10.3l-10.3 10.3l-10.3 -10.3zM840.3 286.1l10.3 10.3l-10.3 10.3l-10.3 -10.3zM848.4 285.9l10.3 10.3l-10.3 10.3l-10.3 -10.3zM856.6 276.5l10.3 10.3l-10.3 10.3l-10.3 -10.3zM864.8 281.5l10.3 10.3l-10.3 10.3l-10.3 -10.3zM872.9 283l10.3 10.3l-10.3 10.3l-10.3 -10.3zM881.1 274.6l10.3 10.3l-10.3 10.3l-10.3 -10.3zM889.2 276.5l10.3 10.3l-10.3 10.3l-10.3 -10.3zM897.4 274.7l10.3 10.3l-10.3 10.3l-10.3 -10.3zM905.6 273.3l10.3 10.3l-10.3 10.3l-10.3 -10.3zM913.7 272.2l10.3 10.3l-10.3 10.3l-10.3 -10.3zM921.9 273l10.3 10.3l-10.3 10.3l-10.3 -10.3zM930 268.1l10.3 10.3l-10.3 10.3l-10.3 -10.3zM938.2 268.6l10.3 10.3l-10.3 10.3l-10.3 -10.3zM946.4 270.8l10.3 10.3l-10.3 10.3l-10.3 -10.3zM954.5 269.1l10.3 10.3l-10.3 10.3l-10.3 -10.3zM962.7 270.7l10.3 10.3l-10.3 10.3l-10.3 -10.3zM970.8 266.4l10.3 10.3l-10.3 10.3l-10.3 -10.3zM979 264.5l10.3 10.3l-10.3 10.3l-10.3 -10.3z" fill="none" stroke="#000080" stroke-width="1.5"/>
<path d="M163 687.3 171.2 671.1 179.3 652.7 187.5 638.1 195.6 620.3 203.8 601 212 595.8 220.1 583.5 228.3 569.9 236.4 559.2 244.6 549 252.8 533.4 260.9 521.3 269.1 505 277.2 499.2 285.4 487 293.6 473 301.7 463.9 309.9 466 318 452.7 326.2 450.6 334.4 443.3 342.5 436.7 350.7 428.9 358.8 418.3 367 412.9 375.2 408.8 383.3 403.9 391.5 396.7 399.6 390.9 407.8 381.9 416 379.6 424.1 371.2 432.3 366.1 440.4 361.3 448.6 356.2 456.8 352.4 464.9 345.3 473.1 345.9 481.2 337.4 489.4 339.3 497.6 336 505.7 330.4 513.9 325.8 522 322.2 530.2 315.4 538.4 312.2 546.5 310.5 554.7 309.6 562.8 305.6 571 298.1 579.2 298.8 587.3 300.5 595.5 296 603.6 293 611.8 285.4 620 286.7 628.1 279.3 636.3 279.9 644.4 279.4 652.6 279 660.8 272.9 668.9 274.7 677.1 274.7 685.2 268.9 693.4 269 701.6 264 709.7 266.2 717.9 269.2 726 260.5 734.2 266.1 742.4 255.1 750.5 253.3 758.7 257.7 766.8 258.3 775 257.3 783.2 249 791.3 250.6 799.5 250.3 807.6 247.8 815.8 240.9 824 243.3 832.1 240.7 840.3 239.3 848.4 237.2 856.6 235.8 864.8 239.9 872.9 237.3 881.1 237.8 889.2 236.7 897.4 230.3 905.6 234.4 913.7 232.4 921.9 233.5 930 232.5 938.2 227.8 946.4 230.9 954.5 230.4 962.7 227 970.8 226.6 979 225.4" fill="none" stroke="#000080" stroke-width="3.2" stroke-linejoin="round" opacity="1.0"/>
<path d="M163 677.8l9.5 9.5l-9.5 9.5l-9.5 -9.5zM163 677.8v19M153.5 687.3h19M171.2 661.6l9.5 9.5l-9.5 9.5l-9.5 -9.5zM171.2 661.6v19M161.7 671.1h19M179.3 643.2l9.5 9.5l-9.5 9.5l-9.5 -9.5zM179.3 643.2v19M169.8 652.7h19M187.5 628.6l9.5 9.5l-9.5 9.5l-9.5 -9.5zM187.5 628.6v19M178 638.1h19M195.6 610.8l9.5 9.5l-9.5 9.5l-9.5 -9.5zM195.6 610.8v19M186.1 620.3h19M203.8 591.5l9.5 9.5l-9.5 9.5l-9.5 -9.5zM203.8 591.5v19M194.3 601h19M212 586.3l9.5 9.5l-9.5 9.5l-9.5 -9.5zM212 586.3v19M202.5 595.8h19M220.1 574l9.5 9.5l-9.5 9.5l-9.5 -9.5zM220.1 574v19M210.6 583.5h19M228.3 560.4l9.5 9.5l-9.5 9.5l-9.5 -9.5zM228.3 560.4v19M218.8 569.9h19M236.4 549.7l9.5 9.5l-9.5 9.5l-9.5 -9.5zM236.4 549.7v19M226.9 559.2h19M244.6 539.5l9.5 9.5l-9.5 9.5l-9.5 -9.5zM244.6 539.5v19M235.1 549h19M252.8 523.9l9.5 9.5l-9.5 9.5l-9.5 -9.5zM252.8 523.9v19M243.3 533.4h19M260.9 511.8l9.5 9.5l-9.5 9.5l-9.5 -9.5zM260.9 511.8v19M251.4 521.3h19M269.1 495.5l9.5 9.5l-9.5 9.5l-9.5 -9.5zM269.1 495.5v19M259.6 505h19M277.2 489.7l9.5 9.5l-9.5 9.5l-9.5 -9.5zM277.2 489.7v19M267.7 499.2h19M285.4 477.5l9.5 9.5l-9.5 9.5l-9.5 -9.5zM285.4 477.5v19M275.9 487h19M293.6 463.5l9.5 9.5l-9.5 9.5l-9.5 -9.5zM293.6 463.5v19M284.1 473h19M301.7 454.4l9.5 9.5l-9.5 9.5l-9.5 -9.5zM301.7 454.4v19M292.2 463.9h19M309.9 456.5l9.5 9.5l-9.5 9.5l-9.5 -9.5zM309.9 456.5v19M300.4 466h19M318 443.2l9.5 9.5l-9.5 9.5l-9.5 -9.5zM318 443.2v19M308.5 452.7h19M326.2 441.1l9.5 9.5l-9.5 9.5l-9.5 -9.5zM326.2 441.1v19M316.7 450.6h19M334.4 433.8l9.5 9.5l-9.5 9.5l-9.5 -9.5zM334.4 433.8v19M324.9 443.3h19M342.5 427.2l9.5 9.5l-9.5 9.5l-9.5 -9.5zM342.5 427.2v19M333 436.7h19M350.7 419.4l9.5 9.5l-9.5 9.5l-9.5 -9.5zM350.7 419.4v19M341.2 428.9h19M358.8 408.8l9.5 9.5l-9.5 9.5l-9.5 -9.5zM358.8 408.8v19M349.3 418.3h19M367 403.4l9.5 9.5l-9.5 9.5l-9.5 -9.5zM367 403.4v19M357.5 412.9h19M375.2 399.3l9.5 9.5l-9.5 9.5l-9.5 -9.5zM375.2 399.3v19M365.7 408.8h19M383.3 394.4l9.5 9.5l-9.5 9.5l-9.5 -9.5zM383.3 394.4v19M373.8 403.9h19M391.5 387.2l9.5 9.5l-9.5 9.5l-9.5 -9.5zM391.5 387.2v19M382 396.7h19M399.6 381.4l9.5 9.5l-9.5 9.5l-9.5 -9.5zM399.6 381.4v19M390.1 390.9h19M407.8 372.4l9.5 9.5l-9.5 9.5l-9.5 -9.5zM407.8 372.4v19M398.3 381.9h19M416 370.1l9.5 9.5l-9.5 9.5l-9.5 -9.5zM416 370.1v19M406.5 379.6h19M424.1 361.7l9.5 9.5l-9.5 9.5l-9.5 -9.5zM424.1 361.7v19M414.6 371.2h19M432.3 356.6l9.5 9.5l-9.5 9.5l-9.5 -9.5zM432.3 356.6v19M422.8 366.1h19M440.4 351.8l9.5 9.5l-9.5 9.5l-9.5 -9.5zM440.4 351.8v19M430.9 361.3h19M448.6 346.7l9.5 9.5l-9.5 9.5l-9.5 -9.5zM448.6 346.7v19M439.1 356.2h19M456.8 342.9l9.5 9.5l-9.5 9.5l-9.5 -9.5zM456.8 342.9v19M447.3 352.4h19M464.9 335.8l9.5 9.5l-9.5 9.5l-9.5 -9.5zM464.9 335.8v19M455.4 345.3h19M473.1 336.4l9.5 9.5l-9.5 9.5l-9.5 -9.5zM473.1 336.4v19M463.6 345.9h19M481.2 327.9l9.5 9.5l-9.5 9.5l-9.5 -9.5zM481.2 327.9v19M471.7 337.4h19M489.4 329.8l9.5 9.5l-9.5 9.5l-9.5 -9.5zM489.4 329.8v19M479.9 339.3h19M497.6 326.5l9.5 9.5l-9.5 9.5l-9.5 -9.5zM497.6 326.5v19M488.1 336h19M505.7 320.9l9.5 9.5l-9.5 9.5l-9.5 -9.5zM505.7 320.9v19M496.2 330.4h19M513.9 316.3l9.5 9.5l-9.5 9.5l-9.5 -9.5zM513.9 316.3v19M504.4 325.8h19M522 312.7l9.5 9.5l-9.5 9.5l-9.5 -9.5zM522 312.7v19M512.5 322.2h19M530.2 305.9l9.5 9.5l-9.5 9.5l-9.5 -9.5zM530.2 305.9v19M520.7 315.4h19M538.4 302.7l9.5 9.5l-9.5 9.5l-9.5 -9.5zM538.4 302.7v19M528.9 312.2h19M546.5 301l9.5 9.5l-9.5 9.5l-9.5 -9.5zM546.5 301v19M537 310.5h19M554.7 300.1l9.5 9.5l-9.5 9.5l-9.5 -9.5zM554.7 300.1v19M545.2 309.6h19M562.8 296.1l9.5 9.5l-9.5 9.5l-9.5 -9.5zM562.8 296.1v19M553.3 305.6h19M571 288.6l9.5 9.5l-9.5 9.5l-9.5 -9.5zM571 288.6v19M561.5 298.1h19M579.2 289.3l9.5 9.5l-9.5 9.5l-9.5 -9.5zM579.2 289.3v19M569.7 298.8h19M587.3 291l9.5 9.5l-9.5 9.5l-9.5 -9.5zM587.3 291v19M577.8 300.5h19M595.5 286.5l9.5 9.5l-9.5 9.5l-9.5 -9.5zM595.5 286.5v19M586 296h19M603.6 283.5l9.5 9.5l-9.5 9.5l-9.5 -9.5zM603.6 283.5v19M594.1 293h19M611.8 275.9l9.5 9.5l-9.5 9.5l-9.5 -9.5zM611.8 275.9v19M602.3 285.4h19M620 277.2l9.5 9.5l-9.5 9.5l-9.5 -9.5zM620 277.2v19M610.5 286.7h19M628.1 269.8l9.5 9.5l-9.5 9.5l-9.5 -9.5zM628.1 269.8v19M618.6 279.3h19M636.3 270.4l9.5 9.5l-9.5 9.5l-9.5 -9.5zM636.3 270.4v19M626.8 279.9h19M644.4 269.9l9.5 9.5l-9.5 9.5l-9.5 -9.5zM644.4 269.9v19M634.9 279.4h19M652.6 269.5l9.5 9.5l-9.5 9.5l-9.5 -9.5zM652.6 269.5v19M643.1 279h19M660.8 263.4l9.5 9.5l-9.5 9.5l-9.5 -9.5zM660.8 263.4v19M651.3 272.9h19M668.9 265.2l9.5 9.5l-9.5 9.5l-9.5 -9.5zM668.9 265.2v19M659.4 274.7h19M677.1 265.2l9.5 9.5l-9.5 9.5l-9.5 -9.5zM677.1 265.2v19M667.6 274.7h19M685.2 259.4l9.5 9.5l-9.5 9.5l-9.5 -9.5zM685.2 259.4v19M675.7 268.9h19M693.4 259.5l9.5 9.5l-9.5 9.5l-9.5 -9.5zM693.4 259.5v19M683.9 269h19M701.6 254.5l9.5 9.5l-9.5 9.5l-9.5 -9.5zM701.6 254.5v19M692.1 264h19M709.7 256.7l9.5 9.5l-9.5 9.5l-9.5 -9.5zM709.7 256.7v19M700.2 266.2h19M717.9 259.7l9.5 9.5l-9.5 9.5l-9.5 -9.5zM717.9 259.7v19M708.4 269.2h19M726 251l9.5 9.5l-9.5 9.5l-9.5 -9.5zM726 251v19M716.5 260.5h19M734.2 256.6l9.5 9.5l-9.5 9.5l-9.5 -9.5zM734.2 256.6v19M724.7 266.1h19M742.4 245.6l9.5 9.5l-9.5 9.5l-9.5 -9.5zM742.4 245.6v19M732.9 255.1h19M750.5 243.8l9.5 9.5l-9.5 9.5l-9.5 -9.5zM750.5 243.8v19M741 253.3h19M758.7 248.2l9.5 9.5l-9.5 9.5l-9.5 -9.5zM758.7 248.2v19M749.2 257.7h19M766.8 248.8l9.5 9.5l-9.5 9.5l-9.5 -9.5zM766.8 248.8v19M757.3 258.3h19M775 247.8l9.5 9.5l-9.5 9.5l-9.5 -9.5zM775 247.8v19M765.5 257.3h19M783.2 239.5l9.5 9.5l-9.5 9.5l-9.5 -9.5zM783.2 239.5v19M773.7 249h19M791.3 241.1l9.5 9.5l-9.5 9.5l-9.5 -9.5zM791.3 241.1v19M781.8 250.6h19M799.5 240.8l9.5 9.5l-9.5 9.5l-9.5 -9.5zM799.5 240.8v19M790 250.3h19M807.6 238.3l9.5 9.5l-9.5 9.5l-9.5 -9.5zM807.6 238.3v19M798.1 247.8h19M815.8 231.4l9.5 9.5l-9.5 9.5l-9.5 -9.5zM815.8 231.4v19M806.3 240.9h19M824 233.8l9.5 9.5l-9.5 9.5l-9.5 -9.5zM824 233.8v19M814.5 243.3h19M832.1 231.2l9.5 9.5l-9.5 9.5l-9.5 -9.5zM832.1 231.2v19M822.6 240.7h19M840.3 229.8l9.5 9.5l-9.5 9.5l-9.5 -9.5zM840.3 229.8v19M830.8 239.3h19M848.4 227.7l9.5 9.5l-9.5 9.5l-9.5 -9.5zM848.4 227.7v19M838.9 237.2h19M856.6 226.3l9.5 9.5l-9.5 9.5l-9.5 -9.5zM856.6 226.3v19M847.1 235.8h19M864.8 230.4l9.5 9.5l-9.5 9.5l-9.5 -9.5zM864.8 230.4v19M855.3 239.9h19M872.9 227.8l9.5 9.5l-9.5 9.5l-9.5 -9.5zM872.9 227.8v19M863.4 237.3h19M881.1 228.3l9.5 9.5l-9.5 9.5l-9.5 -9.5zM881.1 228.3v19M871.6 237.8h19M889.2 227.2l9.5 9.5l-9.5 9.5l-9.5 -9.5zM889.2 227.2v19M879.7 236.7h19M897.4 220.8l9.5 9.5l-9.5 9.5l-9.5 -9.5zM897.4 220.8v19M887.9 230.3h19M905.6 224.9l9.5 9.5l-9.5 9.5l-9.5 -9.5zM905.6 224.9v19M896.1 234.4h19M913.7 222.9l9.5 9.5l-9.5 9.5l-9.5 -9.5zM913.7 222.9v19M904.2 232.4h19M921.9 224l9.5 9.5l-9.5 9.5l-9.5 -9.5zM921.9 224v19M912.4 233.5h19M930 223l9.5 9.5l-9.5 9.5l-9.5 -9.5zM930 223v19M920.5 232.5h19M938.2 218.3l9.5 9.5l-9.5 9.5l-9.5 -9.5zM938.2 218.3v19M928.7 227.8h19M946.4 221.4l9.5 9.5l-9.5 9.5l-9.5 -9.5zM946.4 221.4v19M936.9 230.9h19M954.5 220.9l9.5 9.5l-9.5 9.5l-9.5 -9.5zM954.5 220.9v19M945 230.4h19M962.7 217.5l9.5 9.5l-9.5 9.5l-9.5 -9.5zM962.7 217.5v19M953.2 227h19M970.8 217.1l9.5 9.5l-9.5 9.5l-9.5 -9.5zM970.8 217.1v19M961.3 226.6h19M979 215.9l9.5 9.5l-9.5 9.5l-9.5 -9.5zM979 215.9v19M969.5 225.4h19" fill="none" stroke="#000080" stroke-width="1.4"/>
<path d="M163 688 171.2 664.1 179.3 642.8 187.5 624.1 195.6 606.1 203.8 583.6 212 570 220.1 560.7 228.3 535 236.4 526 244.6 506 252.8 495.8 260.9 486.2 269.1 469 277.2 460 285.4 448.8 293.6 438.4 301.7 428.7 309.9 416.3 318 406.3 326.2 398.9 334.4 386.9 342.5 387.7 350.7 377.2 358.8 365.9 367 364.6 375.2 349.4 383.3 345.3 391.5 341.5 399.6 333.3 407.8 330.9 416 328.1 424.1 315.9 432.3 310.7 440.4 308.4 448.6 304.2 456.8 304.5 464.9 297.9 473.1 292.6 481.2 286.3 489.4 278.8 497.6 280.4 505.7 277 513.9 267.7 522 266.9 530.2 266.6 538.4 255.2 546.5 257.8 554.7 253.6 562.8 252.1 571 245.3 579.2 240.9 587.3 243.1 595.5 238.9 603.6 239.6 611.8 231.8 620 230.4 628.1 235.1 636.3 230.2 644.4 227.3 652.6 227.2 660.8 229.1 668.9 225.7 677.1 221.4 685.2 220.7 693.4 223 701.6 217.6 709.7 220.4 717.9 220.6 726 213.8 734.2 210 742.4 210 750.5 205.5 758.7 203.6 766.8 205.8 775 207.3 783.2 204 791.3 206.8 799.5 201.3 807.6 200.2 815.8 198.2 824 194.3 832.1 201.1 840.3 192.9 848.4 195.6 856.6 190.5 864.8 191.3 872.9 194 881.1 187.5 889.2 191.7 897.4 187.4 905.6 190.4 913.7 189.7 921.9 187.6 930 182.9 938.2 185.4 946.4 187.3 954.5 182.2 962.7 186.8 970.8 187.7 979 189.6" fill="none" stroke="#000080" stroke-width="1.0" stroke-linejoin="round" opacity="1.0"/>
<path d="M163 677.5l10.5 10.5l-10.5 10.5l-10.5 -10.5zM171.2 653.6l10.5 10.5l-10.5 10.5l-10.5 -10.5zM179.3 632.3l10.5 10.5l-10.5 10.5l-10.5 -10.5zM187.5 613.6l10.5 10.5l-10.5 10.5l-10.5 -10.5zM195.6 595.6l10.5 10.5l-10.5 10.5l-10.5 -10.5zM203.8 573.1l10.5 10.5l-10.5 10.5l-10.5 -10.5zM212 559.5l10.5 10.5l-10.5 10.5l-10.5 -10.5zM220.1 550.2l10.5 10.5l-10.5 10.5l-10.5 -10.5zM228.3 524.5l10.5 10.5l-10.5 10.5l-10.5 -10.5zM236.4 515.5l10.5 10.5l-10.5 10.5l-10.5 -10.5zM244.6 495.5l10.5 10.5l-10.5 10.5l-10.5 -10.5zM252.8 485.3l10.5 10.5l-10.5 10.5l-10.5 -10.5zM260.9 475.7l10.5 10.5l-10.5 10.5l-10.5 -10.5zM269.1 458.5l10.5 10.5l-10.5 10.5l-10.5 -10.5zM277.2 449.5l10.5 10.5l-10.5 10.5l-10.5 -10.5zM285.4 438.3l10.5 10.5l-10.5 10.5l-10.5 -10.5zM293.6 427.9l10.5 10.5l-10.5 10.5l-10.5 -10.5zM301.7 418.2l10.5 10.5l-10.5 10.5l-10.5 -10.5zM309.9 405.8l10.5 10.5l-10.5 10.5l-10.5 -10.5zM318 395.8l10.5 10.5l-10.5 10.5l-10.5 -10.5zM326.2 388.4l10.5 10.5l-10.5 10.5l-10.5 -10.5zM334.4 376.4l10.5 10.5l-10.5 10.5l-10.5 -10.5zM342.5 377.2l10.5 10.5l-10.5 10.5l-10.5 -10.5zM350.7 366.7l10.5 10.5l-10.5 10.5l-10.5 -10.5zM358.8 355.4l10.5 10.5l-10.5 10.5l-10.5 -10.5zM367 354.1l10.5 10.5l-10.5 10.5l-10.5 -10.5zM375.2 338.9l10.5 10.5l-10.5 10.5l-10.5 -10.5zM383.3 334.8l10.5 10.5l-10.5 10.5l-10.5 -10.5zM391.5 331l10.5 10.5l-10.5 10.5l-10.5 -10.5zM399.6 322.8l10.5 10.5l-10.5 10.5l-10.5 -10.5zM407.8 320.4l10.5 10.5l-10.5 10.5l-10.5 -10.5zM416 317.6l10.5 10.5l-10.5 10.5l-10.5 -10.5zM424.1 305.4l10.5 10.5l-10.5 10.5l-10.5 -10.5zM432.3 300.2l10.5 10.5l-10.5 10.5l-10.5 -10.5zM440.4 297.9l10.5 10.5l-10.5 10.5l-10.5 -10.5zM448.6 293.7l10.5 10.5l-10.5 10.5l-10.5 -10.5zM456.8 294l10.5 10.5l-10.5 10.5l-10.5 -10.5zM464.9 287.4l10.5 10.5l-10.5 10.5l-10.5 -10.5zM473.1 282.1l10.5 10.5l-10.5 10.5l-10.5 -10.5zM481.2 275.8l10.5 10.5l-10.5 10.5l-10.5 -10.5zM489.4 268.3l10.5 10.5l-10.5 10.5l-10.5 -10.5zM497.6 269.9l10.5 10.5l-10.5 10.5l-10.5 -10.5zM505.7 266.5l10.5 10.5l-10.5 10.5l-10.5 -10.5zM513.9 257.2l10.5 10.5l-10.5 10.5l-10.5 -10.5zM522 256.4l10.5 10.5l-10.5 10.5l-10.5 -10.5zM530.2 256.1l10.5 10.5l-10.5 10.5l-10.5 -10.5zM538.4 244.7l10.5 10.5l-10.5 10.5l-10.5 -10.5zM546.5 247.3l10.5 10.5l-10.5 10.5l-10.5 -10.5zM554.7 243.1l10.5 10.5l-10.5 10.5l-10.5 -10.5zM562.8 241.6l10.5 10.5l-10.5 10.5l-10.5 -10.5zM571 234.8l10.5 10.5l-10.5 10.5l-10.5 -10.5zM579.2 230.4l10.5 10.5l-10.5 10.5l-10.5 -10.5zM587.3 232.6l10.5 10.5l-10.5 10.5l-10.5 -10.5zM595.5 228.4l10.5 10.5l-10.5 10.5l-10.5 -10.5zM603.6 229.1l10.5 10.5l-10.5 10.5l-10.5 -10.5zM611.8 221.3l10.5 10.5l-10.5 10.5l-10.5 -10.5zM620 219.9l10.5 10.5l-10.5 10.5l-10.5 -10.5zM628.1 224.6l10.5 10.5l-10.5 10.5l-10.5 -10.5zM636.3 219.7l10.5 10.5l-10.5 10.5l-10.5 -10.5zM644.4 216.8l10.5 10.5l-10.5 10.5l-10.5 -10.5zM652.6 216.7l10.5 10.5l-10.5 10.5l-10.5 -10.5zM660.8 218.6l10.5 10.5l-10.5 10.5l-10.5 -10.5zM668.9 215.2l10.5 10.5l-10.5 10.5l-10.5 -10.5zM677.1 210.9l10.5 10.5l-10.5 10.5l-10.5 -10.5zM685.2 210.2l10.5 10.5l-10.5 10.5l-10.5 -10.5zM693.4 212.5l10.5 10.5l-10.5 10.5l-10.5 -10.5zM701.6 207.1l10.5 10.5l-10.5 10.5l-10.5 -10.5zM709.7 209.9l10.5 10.5l-10.5 10.5l-10.5 -10.5zM717.9 210.1l10.5 10.5l-10.5 10.5l-10.5 -10.5zM726 203.3l10.5 10.5l-10.5 10.5l-10.5 -10.5zM734.2 199.5l10.5 10.5l-10.5 10.5l-10.5 -10.5zM742.4 199.5l10.5 10.5l-10.5 10.5l-10.5 -10.5zM750.5 195l10.5 10.5l-10.5 10.5l-10.5 -10.5zM758.7 193.1l10.5 10.5l-10.5 10.5l-10.5 -10.5zM766.8 195.3l10.5 10.5l-10.5 10.5l-10.5 -10.5zM775 196.8l10.5 10.5l-10.5 10.5l-10.5 -10.5zM783.2 193.5l10.5 10.5l-10.5 10.5l-10.5 -10.5zM791.3 196.3l10.5 10.5l-10.5 10.5l-10.5 -10.5zM799.5 190.8l10.5 10.5l-10.5 10.5l-10.5 -10.5zM807.6 189.7l10.5 10.5l-10.5 10.5l-10.5 -10.5zM815.8 187.7l10.5 10.5l-10.5 10.5l-10.5 -10.5zM824 183.8l10.5 10.5l-10.5 10.5l-10.5 -10.5zM832.1 190.6l10.5 10.5l-10.5 10.5l-10.5 -10.5zM840.3 182.4l10.5 10.5l-10.5 10.5l-10.5 -10.5zM848.4 185.1l10.5 10.5l-10.5 10.5l-10.5 -10.5zM856.6 180l10.5 10.5l-10.5 10.5l-10.5 -10.5zM864.8 180.8l10.5 10.5l-10.5 10.5l-10.5 -10.5zM872.9 183.5l10.5 10.5l-10.5 10.5l-10.5 -10.5zM881.1 177l10.5 10.5l-10.5 10.5l-10.5 -10.5zM889.2 181.2l10.5 10.5l-10.5 10.5l-10.5 -10.5zM897.4 176.9l10.5 10.5l-10.5 10.5l-10.5 -10.5zM905.6 179.9l10.5 10.5l-10.5 10.5l-10.5 -10.5zM913.7 179.2l10.5 10.5l-10.5 10.5l-10.5 -10.5zM921.9 177.1l10.5 10.5l-10.5 10.5l-10.5 -10.5zM930 172.4l10.5 10.5l-10.5 10.5l-10.5 -10.5zM938.2 174.9l10.5 10.5l-10.5 10.5l-10.5 -10.5zM946.4 176.8l10.5 10.5l-10.5 10.5l-10.5 -10.5zM954.5 171.7l10.5 10.5l-10.5 10.5l-10.5 -10.5zM962.7 176.3l10.5 10.5l-10.5 10.5l-10.5 -10.5zM970.8 177.2l10.5 10.5l-10.5 10.5l-10.5 -10.5zM979 179.1l10.5 10.5l-10.5 10.5l-10.5 -10.5z" fill="#000080"/></g>
<path d="M163.0 16.8H979.0V687.7H163.0Z" fill="none" stroke="#000" stroke-width="2.6" stroke-linejoin="miter"/>
<path d="M244.6 687.7v7M326.2 687.7v13M407.8 687.7v7M489.4 687.7v13M571 687.7v7M652.6 687.7v13M734.2 687.7v7M815.8 687.7v13M897.4 687.7v7M979 687.7v13M163 687.7h-13M163 650.4h-7M163 613.2h-13M163 575.9h-7M163 538.6h-13M163 501.3h-7M163 464.1h-13M163 426.8h-7M163 389.5h-13M163 352.2h-7M163 315h-13M163 277.7h-7M163 240.4h-13M163 203.2h-7M163 165.9h-13M163 128.6h-7M163 91.3h-13M163 54.1h-7M163 16.8h-13" stroke="#000" stroke-width="2.6" fill="none"/>
<path d="M163 689v12" stroke="#9a9a9a" stroke-width="1.2"/>
<text transform="translate(141 700.5) scale(1 1.04)" text-anchor="end" font-weight="bold" font-size="42" font-family="Liberation Serif, serif">0.0</text>
<text transform="translate(141 626) scale(1 1.04)" text-anchor="end" font-weight="bold" font-size="42" font-family="Liberation Serif, serif">0.1</text>
<text transform="translate(141 551.4) scale(1 1.04)" text-anchor="end" font-weight="bold" font-size="42" font-family="Liberation Serif, serif">0.2</text>
<text transform="translate(141 476.9) scale(1 1.04)" text-anchor="end" font-weight="bold" font-size="42" font-family="Liberation Serif, serif">0.3</text>
<text transform="translate(141 402.3) scale(1 1.04)" text-anchor="end" font-weight="bold" font-size="42" font-family="Liberation Serif, serif">0.4</text>
<text transform="translate(141 327.8) scale(1 1.04)" text-anchor="end" font-weight="bold" font-size="42" font-family="Liberation Serif, serif">0.5</text>
<text transform="translate(141 253.2) scale(1 1.04)" text-anchor="end" font-weight="bold" font-size="42" font-family="Liberation Serif, serif">0.6</text>
<text transform="translate(141 178.7) scale(1 1.04)" text-anchor="end" font-weight="bold" font-size="42" font-family="Liberation Serif, serif">0.7</text>
<text transform="translate(141 104.1) scale(1 1.04)" text-anchor="end" font-weight="bold" font-size="42" font-family="Liberation Serif, serif">0.8</text>
<text transform="translate(141 29.6) scale(1 1.04)" text-anchor="end" font-weight="bold" font-size="42" font-family="Liberation Serif, serif">0.9</text>
<text transform="translate(162.5 743.1) scale(1 1.04)" text-anchor="middle" font-weight="bold" font-size="42" font-family="Liberation Serif, serif">0</text>
<text transform="translate(325.7 743.1) scale(1 1.04)" text-anchor="middle" font-weight="bold" font-size="42" font-family="Liberation Serif, serif">1</text>
<text transform="translate(488.9 743.1) scale(1 1.04)" text-anchor="middle" font-weight="bold" font-size="42" font-family="Liberation Serif, serif">2</text>
<text transform="translate(652.1 743.1) scale(1 1.04)" text-anchor="middle" font-weight="bold" font-size="42" font-family="Liberation Serif, serif">3</text>
<text transform="translate(815.3 743.1) scale(1 1.04)" text-anchor="middle" font-weight="bold" font-size="42" font-family="Liberation Serif, serif">4</text>
<text transform="translate(978.5 743.1) scale(1 1.04)" text-anchor="middle" font-weight="bold" font-size="42" font-family="Liberation Serif, serif">5</text>
<text x="572" y="813.3" text-anchor="middle" font-weight="bold" font-size="42" font-family="Liberation Serif, serif">Time (s)</text>
<text transform="translate(34.3 370.2) rotate(-90)" text-anchor="middle" font-weight="bold" font-size="42" font-family="Liberation Serif, serif">CO/[CO+CO<tspan font-size="25.5" dy="16.5">2</tspan><tspan dy="-16.5">]</tspan></text>
<text x="-1.8" y="36" font-weight="bold" font-size="42" text-anchor="start" font-family="Liberation Serif, serif">(a)</text>
<text x="186.7" y="121.5" font-weight="bold" font-size="39.4" text-anchor="start" font-family="Liberation Serif, serif">Decreasing current</text>
<path d="M386.5 193L440.1 274.5" stroke="#111" stroke-width="0.85"/><path d="M453 294L423.2 270.5L440.1 274.5L443.2 257.3Z" fill="#000"/>
<path d="M456 301L509.6 382.1" stroke="#111" stroke-width="0.85"/><path d="M522.5 401.6L492.6 378.2L509.6 382.1L512.7 365Z" fill="#000"/>
<path d="M709.7 377H735.3" stroke="#A80000" stroke-width="4"/>
<path d="M654.4 377H680" stroke="#B84040" stroke-width="1"/><path d="M688.4 370.5h13v13h-13z" fill="#fff" stroke="#A80000" stroke-width="1.4"/><text x="742" y="389.5" font-size="36.5" font-family="Liberation Serif, serif">1 Torr, 20 mA</text>
<path d="M654.4 421.9H735.3" stroke="#B84040" stroke-width="1"/><path d="M688.4 415.4h13v13h-13zM688.4 415.4l13 13M701.4 415.4l-13 13" fill="#fff" stroke="#A80000" stroke-width="1.3"/><text x="742" y="434.4" font-size="36.5" font-family="Liberation Serif, serif">1 Torr, 30 mA</text>
<path d="M654.4 466.1H735.3" stroke="#B84040" stroke-width="1"/><path d="M687.4 458.6h15v15h-15z" fill="#A80000"/><text x="742" y="478.6" font-size="36.5" font-family="Liberation Serif, serif">1 Torr, 40 mA</text>
<path d="M654.4 510.3H735.3" stroke="#4848A0" stroke-width="1"/><path d="M694.9 500.3l10 10l-10 10l-10 -10z" fill="#fff" stroke="#000080" stroke-width="1.4"/><text x="742" y="522.8" font-size="36.5" font-family="Liberation Serif, serif">2 Torr, 20 mA</text>
<path d="M654.4 554.9H735.3" stroke="#7070C0" stroke-width="2"/><path d="M694.9 544.9l10 10l-10 10l-10 -10zM694.9 544.9v20M684.9 554.9h20" fill="#fff" stroke="#000080" stroke-width="1.3"/><text x="742" y="567.4" font-size="36.5" font-family="Liberation Serif, serif">2 Torr, 30 mA</text>
<path d="M654.4 599.8H735.3" stroke="#4848A0" stroke-width="1"/><path d="M694.9 589.3l10.5 10.5l-10.5 10.5l-10.5 -10.5z" fill="#000080"/><text x="742" y="612.3" font-size="36.5" font-family="Liberation Serif, serif">2 Torr, 40 mA</text>
<path d="M654.4 644H735.3" stroke="#8CC4FA" stroke-width="1"/><path d="M694.9 635v18M685.9 644h18M688.5 637.6l12.7 12.7M701.3 637.6l-12.7 12.7" fill="#fff" stroke="#4DA3F7" stroke-width="1.5"/><text x="742" y="656.5" font-size="36.5" font-family="Liberation Serif, serif">2 Torr, 40 mA*</text>
<path d="M257.1 898v7M338.6 898v13M420.2 898v7M501.8 898v13M583.4 898v7M664.9 898v13M746.5 898v7M828.1 898v13M909.6 898v7M991.2 1532.1h-7M991.2 1494.8h-13M991.2 1457.5h-7M991.2 1420.2h-13M991.2 1382.9h-7M991.2 1345.6h-13M991.2 1308.3h-7M991.2 1271h-13M991.2 1233.7h-7M991.2 1196.4h-13M991.2 1159.1h-7M991.2 1121.8h-13M991.2 1084.5h-7M991.2 1047.2h-13M991.2 1009.9h-7M991.2 972.6h-13M991.2 935.3h-7" stroke="#000" stroke-width="2.6" fill="none"/>
<g clip-path="url(#cb)"><path d="M175.5 1522.8 183.7 1490.6 191.8 1430.1 200 1368 208.1 1321.7 216.3 1279.6 224.4 1246.1 232.6 1213.7 240.8 1183.7 248.9 1162.7 257.1 1143.8 265.2 1128.8 273.4 1110.3 281.5 1087.9 289.7 1077.8 297.9 1069.4 306 1055.9 314.2 1041.5 322.3 1039 330.5 1034.6 338.6 1020.7 346.8 1016.5 355 1003.2 363.1 994 371.3 992.8 379.4 991 387.6 985.4 395.7 987.7 403.9 983.4 412.1 982.6 420.2 979.4 428.4 979.1 436.5 977.1 444.7 977 452.8 974.6 461 974.1 469.2 972.7 477.3 968.1 485.5 978.7 493.6 967.6 501.8 972.7 509.9 975.9 518.1 971.3 526.3 969.7 534.4 965.4 542.6 972.8 550.7 967.5 558.9 967.3 567 973.3 575.2 971.3 583.4 964.4 591.5 963.8 599.7 962.2 607.8 964 616 964.4 624.1 965.3 632.3 961.1 640.4 968.6 648.6 965.9 656.8 963.8 664.9 971 673.1 960.2 681.2 967.9 689.4 965.2 697.5 958.9 705.7 967.9 713.9 966.7 722 958.9 730.2 968.6 738.3 966.1 746.5 962.5 754.6 962.5 762.8 961.6 771 962 779.1 957.9 787.3 958.6 795.4 959.6 803.6 963.9 811.7 963.7 819.9 966.7 828.1 958.1 836.2 966.6 844.4 957.4 852.5 954.8 860.7 964.8 868.8 963.5 877 962.8 885.2 958 893.3 964.4 901.5 961.8 909.6 963.4 917.8 962.5 925.9 956.9 934.1 965.5 942.3 961.8 950.4 961.3 958.6 959.3 966.7 967.5 974.9 958.9 983 961.7 991.2 960.4" fill="none" stroke="#F99068" stroke-width="3.5" stroke-linejoin="round" opacity="1.0"/>
<path d="M175.5 1513.6l8 4.6v9.2l-8 4.6l-8 -4.6v-9.2zM183.7 1481.4l8 4.6v9.2l-8 4.6l-8 -4.6v-9.2zM191.8 1420.9l8 4.6v9.2l-8 4.6l-8 -4.6v-9.2zM200 1358.8l8 4.6v9.2l-8 4.6l-8 -4.6v-9.2zM208.1 1312.5l8 4.6v9.2l-8 4.6l-8 -4.6v-9.2zM216.3 1270.4l8 4.6v9.2l-8 4.6l-8 -4.6v-9.2zM224.4 1236.9l8 4.6v9.2l-8 4.6l-8 -4.6v-9.2zM232.6 1204.5l8 4.6v9.2l-8 4.6l-8 -4.6v-9.2zM240.8 1174.5l8 4.6v9.2l-8 4.6l-8 -4.6v-9.2zM248.9 1153.5l8 4.6v9.2l-8 4.6l-8 -4.6v-9.2zM257.1 1134.6l8 4.6v9.2l-8 4.6l-8 -4.6v-9.2zM265.2 1119.6l8 4.6v9.2l-8 4.6l-8 -4.6v-9.2zM273.4 1101.1l8 4.6v9.2l-8 4.6l-8 -4.6v-9.2zM281.5 1078.7l8 4.6v9.2l-8 4.6l-8 -4.6v-9.2zM289.7 1068.6l8 4.6v9.2l-8 4.6l-8 -4.6v-9.2zM297.9 1060.2l8 4.6v9.2l-8 4.6l-8 -4.6v-9.2zM306 1046.7l8 4.6v9.2l-8 4.6l-8 -4.6v-9.2zM314.2 1032.3l8 4.6v9.2l-8 4.6l-8 -4.6v-9.2zM322.3 1029.8l8 4.6v9.2l-8 4.6l-8 -4.6v-9.2zM330.5 1025.4l8 4.6v9.2l-8 4.6l-8 -4.6v-9.2zM338.6 1011.5l8 4.6v9.2l-8 4.6l-8 -4.6v-9.2zM346.8 1007.3l8 4.6v9.2l-8 4.6l-8 -4.6v-9.2zM355 994l8 4.6v9.2l-8 4.6l-8 -4.6v-9.2zM363.1 984.8l8 4.6v9.2l-8 4.6l-8 -4.6v-9.2zM371.3 983.6l8 4.6v9.2l-8 4.6l-8 -4.6v-9.2zM379.4 981.8l8 4.6v9.2l-8 4.6l-8 -4.6v-9.2zM387.6 976.2l8 4.6v9.2l-8 4.6l-8 -4.6v-9.2zM395.7 978.5l8 4.6v9.2l-8 4.6l-8 -4.6v-9.2zM403.9 974.2l8 4.6v9.2l-8 4.6l-8 -4.6v-9.2zM412.1 973.4l8 4.6v9.2l-8 4.6l-8 -4.6v-9.2zM420.2 970.2l8 4.6v9.2l-8 4.6l-8 -4.6v-9.2zM428.4 969.9l8 4.6v9.2l-8 4.6l-8 -4.6v-9.2zM436.5 967.9l8 4.6v9.2l-8 4.6l-8 -4.6v-9.2zM444.7 967.8l8 4.6v9.2l-8 4.6l-8 -4.6v-9.2zM452.8 965.4l8 4.6v9.2l-8 4.6l-8 -4.6v-9.2zM461 964.9l8 4.6v9.2l-8 4.6l-8 -4.6v-9.2zM469.2 963.5l8 4.6v9.2l-8 4.6l-8 -4.6v-9.2zM477.3 958.9l8 4.6v9.2l-8 4.6l-8 -4.6v-9.2zM485.5 969.5l8 4.6v9.2l-8 4.6l-8 -4.6v-9.2zM493.6 958.4l8 4.6v9.2l-8 4.6l-8 -4.6v-9.2zM501.8 963.5l8 4.6v9.2l-8 4.6l-8 -4.6v-9.2zM509.9 966.7l8 4.6v9.2l-8 4.6l-8 -4.6v-9.2zM518.1 962.1l8 4.6v9.2l-8 4.6l-8 -4.6v-9.2zM526.3 960.5l8 4.6v9.2l-8 4.6l-8 -4.6v-9.2zM534.4 956.2l8 4.6v9.2l-8 4.6l-8 -4.6v-9.2zM542.6 963.6l8 4.6v9.2l-8 4.6l-8 -4.6v-9.2zM550.7 958.3l8 4.6v9.2l-8 4.6l-8 -4.6v-9.2zM558.9 958.1l8 4.6v9.2l-8 4.6l-8 -4.6v-9.2zM567 964.1l8 4.6v9.2l-8 4.6l-8 -4.6v-9.2zM575.2 962.1l8 4.6v9.2l-8 4.6l-8 -4.6v-9.2zM583.4 955.2l8 4.6v9.2l-8 4.6l-8 -4.6v-9.2zM591.5 954.6l8 4.6v9.2l-8 4.6l-8 -4.6v-9.2zM599.7 953l8 4.6v9.2l-8 4.6l-8 -4.6v-9.2zM607.8 954.8l8 4.6v9.2l-8 4.6l-8 -4.6v-9.2zM616 955.2l8 4.6v9.2l-8 4.6l-8 -4.6v-9.2zM624.1 956.1l8 4.6v9.2l-8 4.6l-8 -4.6v-9.2zM632.3 951.9l8 4.6v9.2l-8 4.6l-8 -4.6v-9.2zM640.4 959.4l8 4.6v9.2l-8 4.6l-8 -4.6v-9.2zM648.6 956.7l8 4.6v9.2l-8 4.6l-8 -4.6v-9.2zM656.8 954.6l8 4.6v9.2l-8 4.6l-8 -4.6v-9.2zM664.9 961.8l8 4.6v9.2l-8 4.6l-8 -4.6v-9.2zM673.1 951l8 4.6v9.2l-8 4.6l-8 -4.6v-9.2zM681.2 958.7l8 4.6v9.2l-8 4.6l-8 -4.6v-9.2zM689.4 956l8 4.6v9.2l-8 4.6l-8 -4.6v-9.2zM697.5 949.7l8 4.6v9.2l-8 4.6l-8 -4.6v-9.2zM705.7 958.7l8 4.6v9.2l-8 4.6l-8 -4.6v-9.2zM713.9 957.5l8 4.6v9.2l-8 4.6l-8 -4.6v-9.2zM722 949.7l8 4.6v9.2l-8 4.6l-8 -4.6v-9.2zM730.2 959.4l8 4.6v9.2l-8 4.6l-8 -4.6v-9.2zM738.3 956.9l8 4.6v9.2l-8 4.6l-8 -4.6v-9.2zM746.5 953.3l8 4.6v9.2l-8 4.6l-8 -4.6v-9.2zM754.6 953.3l8 4.6v9.2l-8 4.6l-8 -4.6v-9.2zM762.8 952.4l8 4.6v9.2l-8 4.6l-8 -4.6v-9.2zM771 952.8l8 4.6v9.2l-8 4.6l-8 -4.6v-9.2zM779.1 948.7l8 4.6v9.2l-8 4.6l-8 -4.6v-9.2zM787.3 949.4l8 4.6v9.2l-8 4.6l-8 -4.6v-9.2zM795.4 950.4l8 4.6v9.2l-8 4.6l-8 -4.6v-9.2zM803.6 954.7l8 4.6v9.2l-8 4.6l-8 -4.6v-9.2zM811.7 954.5l8 4.6v9.2l-8 4.6l-8 -4.6v-9.2zM819.9 957.5l8 4.6v9.2l-8 4.6l-8 -4.6v-9.2zM828.1 948.9l8 4.6v9.2l-8 4.6l-8 -4.6v-9.2zM836.2 957.4l8 4.6v9.2l-8 4.6l-8 -4.6v-9.2zM844.4 948.2l8 4.6v9.2l-8 4.6l-8 -4.6v-9.2zM852.5 945.6l8 4.6v9.2l-8 4.6l-8 -4.6v-9.2zM860.7 955.6l8 4.6v9.2l-8 4.6l-8 -4.6v-9.2zM868.8 954.3l8 4.6v9.2l-8 4.6l-8 -4.6v-9.2zM877 953.6l8 4.6v9.2l-8 4.6l-8 -4.6v-9.2zM885.2 948.8l8 4.6v9.2l-8 4.6l-8 -4.6v-9.2zM893.3 955.2l8 4.6v9.2l-8 4.6l-8 -4.6v-9.2zM901.5 952.6l8 4.6v9.2l-8 4.6l-8 -4.6v-9.2zM909.6 954.2l8 4.6v9.2l-8 4.6l-8 -4.6v-9.2zM917.8 953.3l8 4.6v9.2l-8 4.6l-8 -4.6v-9.2zM925.9 947.7l8 4.6v9.2l-8 4.6l-8 -4.6v-9.2zM934.1 956.3l8 4.6v9.2l-8 4.6l-8 -4.6v-9.2zM942.3 952.6l8 4.6v9.2l-8 4.6l-8 -4.6v-9.2zM950.4 952.1l8 4.6v9.2l-8 4.6l-8 -4.6v-9.2zM958.6 950.1l8 4.6v9.2l-8 4.6l-8 -4.6v-9.2zM966.7 958.3l8 4.6v9.2l-8 4.6l-8 -4.6v-9.2zM974.9 949.7l8 4.6v9.2l-8 4.6l-8 -4.6v-9.2zM983 952.5l8 4.6v9.2l-8 4.6l-8 -4.6v-9.2zM991.2 951.2l8 4.6v9.2l-8 4.6l-8 -4.6v-9.2z" fill="#F99068"/>
<path d="M175.5 1531 183.7 1513.2 191.8 1485 200 1449.9 208.1 1411.9 216.3 1387.4 224.4 1353.2 232.6 1333.6 240.8 1307.7 248.9 1288.5 257.1 1267.2 265.2 1252.6 273.4 1224.3 281.5 1215.9 289.7 1209 297.9 1189.8 306 1177.2 314.2 1168.5 322.3 1151.4 330.5 1145 338.6 1135.6 346.8 1125.5 355 1114.6 363.1 1110.8 371.3 1107.6 379.4 1101 387.6 1092.3 395.7 1088.5 403.9 1084.7 412.1 1078.8 420.2 1072.4 428.4 1066.7 436.5 1069.5 444.7 1064.8 452.8 1062 461 1060.7 469.2 1056.4 477.3 1053.9 485.5 1046.5 493.6 1046.9 501.8 1047.8 509.9 1040.5 518.1 1040.5 526.3 1041.1 534.4 1036.8 542.6 1034.8 550.7 1033.5 558.9 1029.8 567 1031.8 575.2 1027.4 583.4 1023.3 591.5 1022.6 599.7 1021 607.8 1020 616 1018.3 624.1 1023.3 632.3 1018.1 640.4 1022.8 648.6 1019.9 656.8 1021.5 664.9 1015 673.1 1013.8 681.2 1016.7 689.4 1012.2 697.5 1016.8 705.7 1014.5 713.9 1014.1 722 1016.4 730.2 1012.6 738.3 1009.7 746.5 1015.2 754.6 1010.5 762.8 1012.5 771 1008.3 779.1 1010.4 787.3 1009.7 795.4 1009.5 803.6 1010.1 811.7 1013.5 819.9 1007 828.1 1013 836.2 1009.2 844.4 1008.1 852.5 1011.2 860.7 1008.8 868.8 1006.3 877 1008.8 885.2 1010.6 893.3 1012.1 901.5 1010.6 909.6 1009.7 917.8 1009.6 925.9 1010.6 934.1 1007.6 942.3 1009.7 950.4 1008.7 958.6 1006.9 966.7 1010.3 974.9 1009.1 983 1004.8 991.2 1006.5" fill="none" stroke="#A80000" stroke-width="4" stroke-linejoin="round" opacity="1.0"/>
<path d="M168 1523.5h15v15h-15zM176.2 1505.7h15v15h-15zM184.3 1477.5h15v15h-15zM192.5 1442.4h15v15h-15zM200.6 1404.4h15v15h-15zM208.8 1379.9h15v15h-15zM216.9 1345.7h15v15h-15zM225.1 1326.1h15v15h-15zM233.3 1300.2h15v15h-15zM241.4 1281h15v15h-15zM249.6 1259.7h15v15h-15zM257.7 1245.1h15v15h-15zM265.9 1216.8h15v15h-15zM274 1208.4h15v15h-15zM282.2 1201.5h15v15h-15zM290.4 1182.3h15v15h-15zM298.5 1169.7h15v15h-15zM306.7 1161h15v15h-15zM314.8 1143.9h15v15h-15zM323 1137.5h15v15h-15zM331.1 1128.1h15v15h-15zM339.3 1118h15v15h-15zM347.5 1107.1h15v15h-15zM355.6 1103.3h15v15h-15zM363.8 1100.1h15v15h-15zM371.9 1093.5h15v15h-15zM380.1 1084.8h15v15h-15zM388.2 1081h15v15h-15zM396.4 1077.2h15v15h-15zM404.6 1071.3h15v15h-15zM412.7 1064.9h15v15h-15zM420.9 1059.2h15v15h-15zM429 1062h15v15h-15zM437.2 1057.3h15v15h-15zM445.3 1054.5h15v15h-15zM453.5 1053.2h15v15h-15zM461.7 1048.9h15v15h-15zM469.8 1046.4h15v15h-15zM478 1039h15v15h-15zM486.1 1039.4h15v15h-15zM494.3 1040.3h15v15h-15zM502.4 1033h15v15h-15zM510.6 1033h15v15h-15zM518.8 1033.6h15v15h-15zM526.9 1029.3h15v15h-15zM535.1 1027.3h15v15h-15zM543.2 1026h15v15h-15zM551.4 1022.3h15v15h-15zM559.5 1024.3h15v15h-15zM567.7 1019.9h15v15h-15zM575.9 1015.8h15v15h-15zM584 1015.1h15v15h-15zM592.2 1013.5h15v15h-15zM600.3 1012.5h15v15h-15zM608.5 1010.8h15v15h-15zM616.6 1015.8h15v15h-15zM624.8 1010.6h15v15h-15zM632.9 1015.3h15v15h-15zM641.1 1012.4h15v15h-15zM649.3 1014h15v15h-15zM657.4 1007.5h15v15h-15zM665.6 1006.3h15v15h-15zM673.7 1009.2h15v15h-15zM681.9 1004.7h15v15h-15zM690 1009.3h15v15h-15zM698.2 1007h15v15h-15zM706.4 1006.6h15v15h-15zM714.5 1008.9h15v15h-15zM722.7 1005.1h15v15h-15zM730.8 1002.2h15v15h-15zM739 1007.7h15v15h-15zM747.1 1003h15v15h-15zM755.3 1005h15v15h-15zM763.5 1000.8h15v15h-15zM771.6 1002.9h15v15h-15zM779.8 1002.2h15v15h-15zM787.9 1002h15v15h-15zM796.1 1002.6h15v15h-15zM804.2 1006h15v15h-15zM812.4 999.5h15v15h-15zM820.6 1005.5h15v15h-15zM828.7 1001.7h15v15h-15zM836.9 1000.6h15v15h-15zM845 1003.7h15v15h-15zM853.2 1001.3h15v15h-15zM861.3 998.8h15v15h-15zM869.5 1001.3h15v15h-15zM877.7 1003.1h15v15h-15zM885.8 1004.6h15v15h-15zM894 1003.1h15v15h-15zM902.1 1002.2h15v15h-15zM910.3 1002.1h15v15h-15zM918.4 1003.1h15v15h-15zM926.6 1000.1h15v15h-15zM934.8 1002.2h15v15h-15zM942.9 1001.2h15v15h-15zM951.1 999.4h15v15h-15zM959.2 1002.8h15v15h-15zM967.4 1001.6h15v15h-15zM975.5 997.3h15v15h-15zM983.7 999h15v15h-15z" fill="#A80000"/>
<path d="M175.5 1554.2 183.7 1545.2 191.8 1526.7 200 1510.3 208.1 1485.7 216.3 1473.6 224.4 1453.8 232.6 1437.6 240.8 1425 248.9 1402.4 257.1 1389.5 265.2 1372.4 273.4 1358.1 281.5 1351.8 289.7 1335.1 297.9 1326.8 306 1313.5 314.2 1308.8 322.3 1301 330.5 1288.3 338.6 1281.8 346.8 1273.8 355 1263.5 363.1 1254.6 371.3 1249.8 379.4 1243.2 387.6 1236.8 395.7 1230.9 403.9 1225.5 412.1 1218.1 420.2 1212.5 428.4 1205.9 436.5 1199.8 444.7 1195.7 452.8 1190.3 461 1185 469.2 1183.4 477.3 1179.1 485.5 1174 493.6 1172.3 501.8 1168.6 509.9 1163.9 518.1 1156.9 526.3 1155.3 534.4 1152.9 542.6 1149.6 550.7 1144.9 558.9 1137.5 567 1141.4 575.2 1133.6 583.4 1131.7 591.5 1128 599.7 1130.5 607.8 1122.4 616 1122 624.1 1122.7 632.3 1120.6 640.4 1120.9 648.6 1117.6 656.8 1116.4 664.9 1112.2 673.1 1111.7 681.2 1110.8 689.4 1107.3 697.5 1105.6 705.7 1104.5 713.9 1106.6 722 1099.1 730.2 1102.2 738.3 1100.2 746.5 1096.7 754.6 1093.8 762.8 1090.4 771 1095.7 779.1 1087.5 787.3 1085.9 795.4 1089.3 803.6 1087.5 811.7 1087.2 819.9 1086.1 828.1 1086.8 836.2 1086.3 844.4 1082.2 852.5 1080.2 860.7 1076.3 868.8 1081.2 877 1081.7 885.2 1077 893.3 1077.7 901.5 1075.2 909.6 1076.4 917.8 1077.9 925.9 1076.2 934.1 1072.5 942.3 1073.3 950.4 1075.7 958.6 1071.3 966.7 1076.2 974.9 1074 983 1072.2 991.2 1075.6" fill="none" stroke="#000080" stroke-width="1.0" stroke-linejoin="round" opacity="1.0"/>
<path d="M175.5 1543.7l10.5 10.5l-10.5 10.5l-10.5 -10.5zM183.7 1534.7l10.5 10.5l-10.5 10.5l-10.5 -10.5zM191.8 1516.2l10.5 10.5l-10.5 10.5l-10.5 -10.5zM200 1499.8l10.5 10.5l-10.5 10.5l-10.5 -10.5zM208.1 1475.2l10.5 10.5l-10.5 10.5l-10.5 -10.5zM216.3 1463.1l10.5 10.5l-10.5 10.5l-10.5 -10.5zM224.4 1443.3l10.5 10.5l-10.5 10.5l-10.5 -10.5zM232.6 1427.1l10.5 10.5l-10.5 10.5l-10.5 -10.5zM240.8 1414.5l10.5 10.5l-10.5 10.5l-10.5 -10.5zM248.9 1391.9l10.5 10.5l-10.5 10.5l-10.5 -10.5zM257.1 1379l10.5 10.5l-10.5 10.5l-10.5 -10.5zM265.2 1361.9l10.5 10.5l-10.5 10.5l-10.5 -10.5zM273.4 1347.6l10.5 10.5l-10.5 10.5l-10.5 -10.5zM281.5 1341.3l10.5 10.5l-10.5 10.5l-10.5 -10.5zM289.7 1324.6l10.5 10.5l-10.5 10.5l-10.5 -10.5zM297.9 1316.3l10.5 10.5l-10.5 10.5l-10.5 -10.5zM306 1303l10.5 10.5l-10.5 10.5l-10.5 -10.5zM314.2 1298.3l10.5 10.5l-10.5 10.5l-10.5 -10.5zM322.3 1290.5l10.5 10.5l-10.5 10.5l-10.5 -10.5zM330.5 1277.8l10.5 10.5l-10.5 10.5l-10.5 -10.5zM338.6 1271.3l10.5 10.5l-10.5 10.5l-10.5 -10.5zM346.8 1263.3l10.5 10.5l-10.5 10.5l-10.5 -10.5zM355 1253l10.5 10.5l-10.5 10.5l-10.5 -10.5zM363.1 1244.1l10.5 10.5l-10.5 10.5l-10.5 -10.5zM371.3 1239.3l10.5 10.5l-10.5 10.5l-10.5 -10.5zM379.4 1232.7l10.5 10.5l-10.5 10.5l-10.5 -10.5zM387.6 1226.3l10.5 10.5l-10.5 10.5l-10.5 -10.5zM395.7 1220.4l10.5 10.5l-10.5 10.5l-10.5 -10.5zM403.9 1215l10.5 10.5l-10.5 10.5l-10.5 -10.5zM412.1 1207.6l10.5 10.5l-10.5 10.5l-10.5 -10.5zM420.2 1202l10.5 10.5l-10.5 10.5l-10.5 -10.5zM428.4 1195.4l10.5 10.5l-10.5 10.5l-10.5 -10.5zM436.5 1189.3l10.5 10.5l-10.5 10.5l-10.5 -10.5zM444.7 1185.2l10.5 10.5l-10.5 10.5l-10.5 -10.5zM452.8 1179.8l10.5 10.5l-10.5 10.5l-10.5 -10.5zM461 1174.5l10.5 10.5l-10.5 10.5l-10.5 -10.5zM469.2 1172.9l10.5 10.5l-10.5 10.5l-10.5 -10.5zM477.3 1168.6l10.5 10.5l-10.5 10.5l-10.5 -10.5zM485.5 1163.5l10.5 10.5l-10.5 10.5l-10.5 -10.5zM493.6 1161.8l10.5 10.5l-10.5 10.5l-10.5 -10.5zM501.8 1158.1l10.5 10.5l-10.5 10.5l-10.5 -10.5zM509.9 1153.4l10.5 10.5l-10.5 10.5l-10.5 -10.5zM518.1 1146.4l10.5 10.5l-10.5 10.5l-10.5 -10.5zM526.3 1144.8l10.5 10.5l-10.5 10.5l-10.5 -10.5zM534.4 1142.4l10.5 10.5l-10.5 10.5l-10.5 -10.5zM542.6 1139.1l10.5 10.5l-10.5 10.5l-10.5 -10.5zM550.7 1134.4l10.5 10.5l-10.5 10.5l-10.5 -10.5zM558.9 1127l10.5 10.5l-10.5 10.5l-10.5 -10.5zM567 1130.9l10.5 10.5l-10.5 10.5l-10.5 -10.5zM575.2 1123.1l10.5 10.5l-10.5 10.5l-10.5 -10.5zM583.4 1121.2l10.5 10.5l-10.5 10.5l-10.5 -10.5zM591.5 1117.5l10.5 10.5l-10.5 10.5l-10.5 -10.5zM599.7 1120l10.5 10.5l-10.5 10.5l-10.5 -10.5zM607.8 1111.9l10.5 10.5l-10.5 10.5l-10.5 -10.5zM616 1111.5l10.5 10.5l-10.5 10.5l-10.5 -10.5zM624.1 1112.2l10.5 10.5l-10.5 10.5l-10.5 -10.5zM632.3 1110.1l10.5 10.5l-10.5 10.5l-10.5 -10.5zM640.4 1110.4l10.5 10.5l-10.5 10.5l-10.5 -10.5zM648.6 1107.1l10.5 10.5l-10.5 10.5l-10.5 -10.5zM656.8 1105.9l10.5 10.5l-10.5 10.5l-10.5 -10.5zM664.9 1101.7l10.5 10.5l-10.5 10.5l-10.5 -10.5zM673.1 1101.2l10.5 10.5l-10.5 10.5l-10.5 -10.5zM681.2 1100.3l10.5 10.5l-10.5 10.5l-10.5 -10.5zM689.4 1096.8l10.5 10.5l-10.5 10.5l-10.5 -10.5zM697.5 1095.1l10.5 10.5l-10.5 10.5l-10.5 -10.5zM705.7 1094l10.5 10.5l-10.5 10.5l-10.5 -10.5zM713.9 1096.1l10.5 10.5l-10.5 10.5l-10.5 -10.5zM722 1088.6l10.5 10.5l-10.5 10.5l-10.5 -10.5zM730.2 1091.7l10.5 10.5l-10.5 10.5l-10.5 -10.5zM738.3 1089.7l10.5 10.5l-10.5 10.5l-10.5 -10.5zM746.5 1086.2l10.5 10.5l-10.5 10.5l-10.5 -10.5zM754.6 1083.3l10.5 10.5l-10.5 10.5l-10.5 -10.5zM762.8 1079.9l10.5 10.5l-10.5 10.5l-10.5 -10.5zM771 1085.2l10.5 10.5l-10.5 10.5l-10.5 -10.5zM779.1 1077l10.5 10.5l-10.5 10.5l-10.5 -10.5zM787.3 1075.4l10.5 10.5l-10.5 10.5l-10.5 -10.5zM795.4 1078.8l10.5 10.5l-10.5 10.5l-10.5 -10.5zM803.6 1077l10.5 10.5l-10.5 10.5l-10.5 -10.5zM811.7 1076.7l10.5 10.5l-10.5 10.5l-10.5 -10.5zM819.9 1075.6l10.5 10.5l-10.5 10.5l-10.5 -10.5zM828.1 1076.3l10.5 10.5l-10.5 10.5l-10.5 -10.5zM836.2 1075.8l10.5 10.5l-10.5 10.5l-10.5 -10.5zM844.4 1071.7l10.5 10.5l-10.5 10.5l-10.5 -10.5zM852.5 1069.7l10.5 10.5l-10.5 10.5l-10.5 -10.5zM860.7 1065.8l10.5 10.5l-10.5 10.5l-10.5 -10.5zM868.8 1070.7l10.5 10.5l-10.5 10.5l-10.5 -10.5zM877 1071.2l10.5 10.5l-10.5 10.5l-10.5 -10.5zM885.2 1066.5l10.5 10.5l-10.5 10.5l-10.5 -10.5zM893.3 1067.2l10.5 10.5l-10.5 10.5l-10.5 -10.5zM901.5 1064.7l10.5 10.5l-10.5 10.5l-10.5 -10.5zM909.6 1065.9l10.5 10.5l-10.5 10.5l-10.5 -10.5zM917.8 1067.4l10.5 10.5l-10.5 10.5l-10.5 -10.5zM925.9 1065.7l10.5 10.5l-10.5 10.5l-10.5 -10.5zM934.1 1062l10.5 10.5l-10.5 10.5l-10.5 -10.5zM942.3 1062.8l10.5 10.5l-10.5 10.5l-10.5 -10.5zM950.4 1065.2l10.5 10.5l-10.5 10.5l-10.5 -10.5zM958.6 1060.8l10.5 10.5l-10.5 10.5l-10.5 -10.5zM966.7 1065.7l10.5 10.5l-10.5 10.5l-10.5 -10.5zM974.9 1063.5l10.5 10.5l-10.5 10.5l-10.5 -10.5zM983 1061.7l10.5 10.5l-10.5 10.5l-10.5 -10.5zM991.2 1065.1l10.5 10.5l-10.5 10.5l-10.5 -10.5z" fill="#000080"/>
<path d="M175.5 1569.7 183.7 1558.7 191.8 1547.6 200 1533.7 208.1 1519.5 216.3 1509.3 224.4 1497.4 232.6 1487.9 240.8 1477.3 248.9 1471.9 257.1 1463.1 265.2 1456.3 273.4 1446.9 281.5 1442.2 289.7 1435.1 297.9 1430.5 306 1424.8 314.2 1415.8 322.3 1410.3 330.5 1404.5 338.6 1400 346.8 1391.8 355 1387.5 363.1 1386.4 371.3 1381.2 379.4 1377.1 387.6 1376.5 395.7 1371.4 403.9 1365.7 412.1 1367 420.2 1360.4 428.4 1355.2 436.5 1354.7 444.7 1350.7 452.8 1346 461 1342 469.2 1338.8 477.3 1338.3 485.5 1334 493.6 1329.7 501.8 1327.4 509.9 1322.5 518.1 1322.1 526.3 1319.6 534.4 1314.2 542.6 1314.3 550.7 1313.3 558.9 1309.6 567 1307.7 575.2 1304.1 583.4 1302.4 591.5 1301.5 599.7 1299.4 607.8 1297.5 616 1292.6 624.1 1290.3 632.3 1290.8 640.4 1288.1 648.6 1286.7 656.8 1286.5 664.9 1285.2 673.1 1284 681.2 1284.5 689.4 1282.3 697.5 1279.5 705.7 1277.9 713.9 1278.7 722 1278.2 730.2 1275.9 738.3 1273.8 746.5 1276.9 754.6 1276 762.8 1274.9 771 1272.9 779.1 1274.5 787.3 1272.1 795.4 1273.4 803.6 1271 811.7 1271.8 819.9 1271.5 828.1 1269 836.2 1271.4 844.4 1270.1 852.5 1267.1 860.7 1266.2 868.8 1266.3 877 1268.2 885.2 1264 893.3 1263.8 901.5 1264.2 909.6 1265.6 917.8 1261.4 925.9 1259.8 934.1 1261 942.3 1259.3 950.4 1261.9 958.6 1260.2 966.7 1261.1 974.9 1261.5 983 1260.1 991.2 1260.6" fill="none" stroke="#000000" stroke-width="1.0" stroke-linejoin="round" opacity="1.0"/>
<path d="M175.5 1562.1l8 14h-16zM183.7 1551.1l8 14h-16zM191.8 1540l8 14h-16zM200 1526.1l8 14h-16zM208.1 1511.9l8 14h-16zM216.3 1501.7l8 14h-16zM224.4 1489.8l8 14h-16zM232.6 1480.3l8 14h-16zM240.8 1469.7l8 14h-16zM248.9 1464.3l8 14h-16zM257.1 1455.5l8 14h-16zM265.2 1448.7l8 14h-16zM273.4 1439.3l8 14h-16zM281.5 1434.6l8 14h-16zM289.7 1427.5l8 14h-16zM297.9 1422.9l8 14h-16zM306 1417.2l8 14h-16zM314.2 1408.2l8 14h-16zM322.3 1402.7l8 14h-16zM330.5 1396.9l8 14h-16zM338.6 1392.4l8 14h-16zM346.8 1384.2l8 14h-16zM355 1379.9l8 14h-16zM363.1 1378.8l8 14h-16zM371.3 1373.6l8 14h-16zM379.4 1369.5l8 14h-16zM387.6 1368.9l8 14h-16zM395.7 1363.8l8 14h-16zM403.9 1358.1l8 14h-16zM412.1 1359.4l8 14h-16zM420.2 1352.8l8 14h-16zM428.4 1347.6l8 14h-16zM436.5 1347.1l8 14h-16zM444.7 1343.1l8 14h-16zM452.8 1338.4l8 14h-16zM461 1334.4l8 14h-16zM469.2 1331.2l8 14h-16zM477.3 1330.7l8 14h-16zM485.5 1326.4l8 14h-16zM493.6 1322.1l8 14h-16zM501.8 1319.8l8 14h-16zM509.9 1314.9l8 14h-16zM518.1 1314.5l8 14h-16zM526.3 1312l8 14h-16zM534.4 1306.6l8 14h-16zM542.6 1306.7l8 14h-16zM550.7 1305.7l8 14h-16zM558.9 1302l8 14h-16zM567 1300.1l8 14h-16zM575.2 1296.5l8 14h-16zM583.4 1294.8l8 14h-16zM591.5 1293.9l8 14h-16zM599.7 1291.8l8 14h-16zM607.8 1289.9l8 14h-16zM616 1285l8 14h-16zM624.1 1282.7l8 14h-16zM632.3 1283.2l8 14h-16zM640.4 1280.5l8 14h-16zM648.6 1279.1l8 14h-16zM656.8 1278.9l8 14h-16zM664.9 1277.6l8 14h-16zM673.1 1276.4l8 14h-16zM681.2 1276.9l8 14h-16zM689.4 1274.7l8 14h-16zM697.5 1271.9l8 14h-16zM705.7 1270.3l8 14h-16zM713.9 1271.1l8 14h-16zM722 1270.6l8 14h-16zM730.2 1268.3l8 14h-16zM738.3 1266.2l8 14h-16zM746.5 1269.3l8 14h-16zM754.6 1268.4l8 14h-16zM762.8 1267.3l8 14h-16zM771 1265.3l8 14h-16zM779.1 1266.9l8 14h-16zM787.3 1264.5l8 14h-16zM795.4 1265.8l8 14h-16zM803.6 1263.4l8 14h-16zM811.7 1264.2l8 14h-16zM819.9 1263.9l8 14h-16zM828.1 1261.4l8 14h-16zM836.2 1263.8l8 14h-16zM844.4 1262.5l8 14h-16zM852.5 1259.5l8 14h-16zM860.7 1258.6l8 14h-16zM868.8 1258.7l8 14h-16zM877 1260.6l8 14h-16zM885.2 1256.4l8 14h-16zM893.3 1256.2l8 14h-16zM901.5 1256.6l8 14h-16zM909.6 1258l8 14h-16zM917.8 1253.8l8 14h-16zM925.9 1252.2l8 14h-16zM934.1 1253.4l8 14h-16zM942.3 1251.7l8 14h-16zM950.4 1254.3l8 14h-16zM958.6 1252.6l8 14h-16zM966.7 1253.5l8 14h-16zM974.9 1253.9l8 14h-16zM983 1252.5l8 14h-16zM991.2 1253l8 14h-16z" fill="#000000"/></g>
<path d="M175.5 898.0H991.2V1569.4H175.5Z" fill="none" stroke="#000" stroke-width="2.6" stroke-linejoin="miter"/>
<path d="M257.1 1569.4v7M338.6 1569.4v13M420.2 1569.4v7M501.8 1569.4v13M583.4 1569.4v7M664.9 1569.4v13M746.5 1569.4v7M828.1 1569.4v13M909.6 1569.4v7M991.2 1569.4v13M175.5 1569.4h-13M175.5 1532.1h-7M175.5 1494.8h-13M175.5 1457.5h-7M175.5 1420.2h-13M175.5 1382.9h-7M175.5 1345.6h-13M175.5 1308.3h-7M175.5 1271h-13M175.5 1233.7h-7M175.5 1196.4h-13M175.5 1159.1h-7M175.5 1121.8h-13M175.5 1084.5h-7M175.5 1047.2h-13M175.5 1009.9h-7M175.5 972.6h-13M175.5 935.3h-7M175.5 898h-13" stroke="#000" stroke-width="2.6" fill="none"/>
<path d="M175.5 1570.7v12" stroke="#9a9a9a" stroke-width="1.2"/>
<text transform="translate(153.5 1582.2) scale(1 1.04)" text-anchor="end" font-weight="bold" font-size="42" font-family="Liberation Serif, serif">0.0</text>
<text transform="translate(153.5 1507.6) scale(1 1.04)" text-anchor="end" font-weight="bold" font-size="42" font-family="Liberation Serif, serif">0.1</text>
<text transform="translate(153.5 1433) scale(1 1.04)" text-anchor="end" font-weight="bold" font-size="42" font-family="Liberation Serif, serif">0.2</text>
<text transform="translate(153.5 1358.4) scale(1 1.04)" text-anchor="end" font-weight="bold" font-size="42" font-family="Liberation Serif, serif">0.3</text>
<text transform="translate(153.5 1283.8) scale(1 1.04)" text-anchor="end" font-weight="bold" font-size="42" font-family="Liberation Serif, serif">0.4</text>
<text transform="translate(153.5 1209.2) scale(1 1.04)" text-anchor="end" font-weight="bold" font-size="42" font-family="Liberation Serif, serif">0.5</text>
<text transform="translate(153.5 1134.6) scale(1 1.04)" text-anchor="end" font-weight="bold" font-size="42" font-family="Liberation Serif, serif">0.6</text>
<text transform="translate(153.5 1060) scale(1 1.04)" text-anchor="end" font-weight="bold" font-size="42" font-family="Liberation Serif, serif">0.7</text>
<text transform="translate(153.5 985.4) scale(1 1.04)" text-anchor="end" font-weight="bold" font-size="42" font-family="Liberation Serif, serif">0.8</text>
<text transform="translate(153.5 910.8) scale(1 1.04)" text-anchor="end" font-weight="bold" font-size="42" font-family="Liberation Serif, serif">0.9</text>
<text transform="translate(175 1624.8) scale(1 1.04)" text-anchor="middle" font-weight="bold" font-size="42" font-family="Liberation Serif, serif">0</text>
<text transform="translate(338.1 1624.8) scale(1 1.04)" text-anchor="middle" font-weight="bold" font-size="42" font-family="Liberation Serif, serif">1</text>
<text transform="translate(501.3 1624.8) scale(1 1.04)" text-anchor="middle" font-weight="bold" font-size="42" font-family="Liberation Serif, serif">2</text>
<text transform="translate(664.4 1624.8) scale(1 1.04)" text-anchor="middle" font-weight="bold" font-size="42" font-family="Liberation Serif, serif">3</text>
<text transform="translate(827.6 1624.8) scale(1 1.04)" text-anchor="middle" font-weight="bold" font-size="42" font-family="Liberation Serif, serif">4</text>
<text transform="translate(990.7 1624.8) scale(1 1.04)" text-anchor="middle" font-weight="bold" font-size="42" font-family="Liberation Serif, serif">5</text>
<text x="584.4" y="1695" text-anchor="middle" font-weight="bold" font-size="42" font-family="Liberation Serif, serif">Time (s)</text>
<text transform="translate(46.5 1251.7) rotate(-90)" text-anchor="middle" font-weight="bold" font-size="42" font-family="Liberation Serif, serif">CO/[CO+CO<tspan font-size="25.5" dy="16.5">2</tspan><tspan dy="-16.5">]</tspan></text>
<text x="8.2" y="916.7" font-weight="bold" font-size="42" text-anchor="start" font-family="Liberation Serif, serif">(b)</text>
<text x="210.9" y="950.3" font-weight="bold" font-size="39.45" text-anchor="start" font-family="Liberation Serif, serif">Decreasing pressure</text>
<path d="M567.2 1340.4L371.4 990.4" stroke="#111" stroke-width="0.85"/><path d="M360 970L388 995.6L371.4 990.4L367.1 1007.3Z" fill="#000"/>
<path d="M624 1365.2H710" stroke="#FCC8B0" stroke-width="1"/><path d="M667.2 1356l8 4.6v9.2l-8 4.6l-8 -4.6v-9.2z" fill="#F99068"/><text x="720.4" y="1377.7" font-size="39.3" font-family="Liberation Serif, serif">0.4 Torr, 40 mA</text>
<path d="M624 1413.2H710" stroke="#B84040" stroke-width="1"/><path d="M659.7 1405.7h15v15h-15z" fill="#A80000"/><text x="720.4" y="1425.7" font-size="39.3" font-family="Liberation Serif, serif">1 Torr, 40 mA</text>
<path d="M624 1461.2H710" stroke="#8080C8" stroke-width="1"/><path d="M667.2 1450.7l10.5 10.5l-10.5 10.5l-10.5 -10.5z" fill="#000080"/><text x="720.4" y="1473.7" font-size="39.3" font-family="Liberation Serif, serif">2 Torr, 40 mA</text>
<path d="M682.4 1508.4H710.8" stroke="#000" stroke-width="3.2"/>
<path d="M624 1508H652" stroke="#808080" stroke-width="1"/><path d="M667.2 1497.2l10.2 17.2h-20.4z" fill="#000000"/><text x="720.4" y="1520.5" font-size="39.3" font-family="Liberation Serif, serif">5 Torr, 40 mA</text>
<path d="M254.9 1752v7M336.5 1752v13M418.1 1752v7M499.8 1752v13M581.4 1752v7M663 1752v13M744.6 1752v7M826.2 1752v13M907.9 1752v7M989.5 2386.2h-7M989.5 2348.9h-13M989.5 2311.6h-7M989.5 2274.3h-13M989.5 2237h-7M989.5 2199.7h-13M989.5 2162.4h-7M989.5 2125.1h-13M989.5 2087.8h-7M989.5 2050.4h-13M989.5 2013.1h-7M989.5 1975.8h-13M989.5 1938.5h-7M989.5 1901.2h-13M989.5 1863.9h-7M989.5 1826.6h-13M989.5 1789.3h-7" stroke="#000" stroke-width="2.6" fill="none"/>
<g clip-path="url(#cc)"><path d="M173.2 2396.9v16M165.2 2404.9h16M181.4 2385.7v16M173.4 2393.7h16M189.6 2367.3v16M181.6 2375.3h16M197.7 2349.7v16M189.7 2357.7h16M205.9 2327.1v16M197.9 2335.1h16M214.1 2313.7v16M206.1 2321.7h16M222.2 2295.7v16M214.2 2303.7h16M230.4 2280.5v16M222.4 2288.5h16M238.6 2263.1v16M230.6 2271.1h16M246.7 2247.2v16M238.7 2255.2h16M254.9 2231.4v16M246.9 2239.4h16M263 2215.1v16M255 2223.1h16M271.2 2203.5v16M263.2 2211.5h16M279.4 2197.2v16M271.4 2205.2h16M287.5 2186.9v16M279.5 2194.9h16M295.7 2182.1v16M287.7 2190.1h16M303.9 2175.4v16M295.9 2183.4h16M312 2168.8v16M304 2176.8h16M320.2 2163.2v16M312.2 2171.2h16M328.3 2152.7v16M320.3 2160.7h16M336.5 2146v16M328.5 2154h16M344.7 2137v16M336.7 2145h16M352.8 2128.3v16M344.8 2136.3h16M361 2124.4v16M353 2132.4h16M369.2 2119.7v16M361.2 2127.7h16M377.3 2113.2v16M369.3 2121.2h16M385.5 2108.5v16M377.5 2116.5h16M393.6 2103.7v16M385.6 2111.7h16M401.8 2100.9v16M393.8 2108.9h16M410 2094.5v16M402 2102.5h16M418.1 2089.1v16M410.1 2097.1h16M426.3 2086.4v16M418.3 2094.4h16M434.4 2087.5v16M426.4 2095.5h16M442.6 2085.4v16M434.6 2093.4h16M450.8 2080.1v16M442.8 2088.1h16M458.9 2076.6v16M450.9 2084.6h16M467.1 2076.5v16M459.1 2084.5h16M475.3 2073.1v16M467.3 2081.1h16M483.4 2072.1v16M475.4 2080.1h16M491.6 2070v16M483.6 2078h16M499.8 2067.6v16M491.8 2075.6h16M507.9 2065.3v16M499.9 2073.3h16M516.1 2063.7v16M508.1 2071.7h16M524.2 2058v16M516.2 2066h16M532.4 2056v16M524.4 2064h16M540.6 2055.1v16M532.6 2063.1h16M548.7 2051.8v16M540.7 2059.8h16M556.9 2050.3v16M548.9 2058.3h16M565.1 2045.5v16M557.1 2053.5h16M573.2 2046.1v16M565.2 2054.1h16M581.4 2042.4v16M573.4 2050.4h16M589.5 2039v16M581.5 2047h16M597.7 2037.1v16M589.7 2045.1h16M605.9 2034.2v16M597.9 2042.2h16M614 2033.4v16M606 2041.4h16M622.2 2027.9v16M614.2 2035.9h16M630.4 2027.5v16M622.4 2035.5h16M638.5 2023.9v16M630.5 2031.9h16M646.7 2025v16M638.7 2033h16M654.8 2021.1v16M646.8 2029.1h16M663 2021.7v16M655 2029.7h16M671.2 2020v16M663.2 2028h16M679.3 2020.5v16M671.3 2028.5h16M687.5 2019.3v16M679.5 2027.3h16M695.6 2018.2v16M687.6 2026.2h16M703.8 2015v16M695.8 2023h16M712 2016.1v16M704 2024.1h16M720.1 2014.6v16M712.1 2022.6h16M728.3 2011.7v16M720.3 2019.7h16M736.5 2011.8v16M728.5 2019.8h16M744.6 2012.2v16M736.6 2020.2h16M752.8 2010.8v16M744.8 2018.8h16M761 2012.7v16M753 2020.7h16M769.1 2012.2v16M761.1 2020.2h16M777.3 2008.8v16M769.3 2016.8h16M785.4 2006.6v16M777.4 2014.6h16M793.6 2006.1v16M785.6 2014.1h16M801.8 2005.6v16M793.8 2013.6h16M809.9 2006.7v16M801.9 2014.7h16M818.1 2007.9v16M810.1 2015.9h16M826.2 2005v16M818.2 2013h16M834.4 2007.9v16M826.4 2015.9h16M842.6 2008.1v16M834.6 2016.1h16M850.7 2004.6v16M842.7 2012.6h16M858.9 2003.2v16M850.9 2011.2h16M867.1 2003.3v16M859.1 2011.3h16M875.2 2001.6v16M867.2 2009.6h16M883.4 2002.4v16M875.4 2010.4h16M891.6 2002.6v16M883.6 2010.6h16M899.7 2004.4v16M891.7 2012.4h16M907.9 2002.7v16M899.9 2010.7h16M916 2004v16M908 2012h16M924.2 2002.6v16M916.2 2010.6h16M932.4 1999.4v16M924.4 2007.4h16M940.5 2001.3v16M932.5 2009.3h16M948.7 2000.8v16M940.7 2008.8h16M956.9 2002.2v16M948.9 2010.2h16M965 1998.6v16M957 2006.6h16M973.2 2003.3v16M965.2 2011.3h16M981.3 2002.1v16M973.3 2010.1h16M989.5 1999.3v16M981.5 2007.3h16" fill="none" stroke="#3A8CF6" stroke-width="1.4"/>
<path d="M173.2 2414.6 181.4 2404.7 189.6 2385.2 197.7 2367.5 205.9 2348.9 214.1 2332.7 222.2 2310.3 230.4 2301.1 238.6 2280.6 246.7 2266.4 254.9 2247.3 263 2233.6 271.2 2218.1 279.4 2205.6 287.5 2199.1 295.7 2178.9 303.9 2166.1 312 2153.1 320.2 2140.4 328.3 2138.6 336.5 2118.8 344.7 2117.7 352.8 2104.5 361 2092.2 369.2 2082.3 377.3 2076.7 385.5 2070.2 393.6 2061.7 401.8 2058.9 410 2048.4 418.1 2036.7 426.3 2039.1 434.4 2027.8 442.6 2020.1 450.8 2015.2 458.9 2005.6 467.1 1997.3 475.3 1990.6 483.4 1982.7 491.6 1979.5 499.8 1969.6 507.9 1968.4 516.1 1964.9 524.2 1951.9 532.4 1953.5 540.6 1948.5 548.7 1947.1 556.9 1936.6 565.1 1936.5 573.2 1931.2 581.4 1922.9 589.5 1919.7 597.7 1919.8 605.9 1912.4 614 1909.4 622.2 1907.8 630.4 1906.9 638.5 1899.5 646.7 1902.4 654.8 1893.4 663 1891.5 671.2 1892 679.3 1888.4 687.5 1877.3 695.6 1883.7 703.8 1875.6 712 1873.8 720.1 1868.5 728.3 1866.1 736.5 1861.7 744.6 1859.8 752.8 1859.7 761 1861.6 769.1 1856.1 777.3 1851.6 785.4 1849.7 793.6 1845.8 801.8 1847.9 809.9 1849 818.1 1845.1 826.2 1840.7 834.4 1836.5 842.6 1834.3 850.7 1832.7 858.9 1836.5 867.1 1831.9 875.2 1826.8 883.4 1825.6 891.6 1822.2 899.7 1827 907.9 1820.3 916 1825.9 924.2 1821.6 932.4 1819 940.5 1819.4 948.7 1815 956.9 1817.5 965 1816.2 973.2 1813.8 981.3 1818.2 989.5 1811" fill="none" stroke="#000080" stroke-width="3" stroke-linejoin="round" opacity="1.0"/>
<path d="M165.2 2406.6l16 16M181.2 2406.6l-16 16M173.4 2396.7l16 16M189.4 2396.7l-16 16M181.6 2377.2l16 16M197.6 2377.2l-16 16M189.7 2359.5l16 16M205.7 2359.5l-16 16M197.9 2340.9l16 16M213.9 2340.9l-16 16M206.1 2324.7l16 16M222.1 2324.7l-16 16M214.2 2302.3l16 16M230.2 2302.3l-16 16M222.4 2293.1l16 16M238.4 2293.1l-16 16M230.6 2272.6l16 16M246.6 2272.6l-16 16M238.7 2258.4l16 16M254.7 2258.4l-16 16M246.9 2239.3l16 16M262.9 2239.3l-16 16M255 2225.6l16 16M271 2225.6l-16 16M263.2 2210.1l16 16M279.2 2210.1l-16 16M271.4 2197.6l16 16M287.4 2197.6l-16 16M279.5 2191.1l16 16M295.5 2191.1l-16 16M287.7 2170.9l16 16M303.7 2170.9l-16 16M295.9 2158.1l16 16M311.9 2158.1l-16 16M304 2145.1l16 16M320 2145.1l-16 16M312.2 2132.4l16 16M328.2 2132.4l-16 16M320.3 2130.6l16 16M336.3 2130.6l-16 16M328.5 2110.8l16 16M344.5 2110.8l-16 16M336.7 2109.7l16 16M352.7 2109.7l-16 16M344.8 2096.5l16 16M360.8 2096.5l-16 16M353 2084.2l16 16M369 2084.2l-16 16M361.2 2074.3l16 16M377.2 2074.3l-16 16M369.3 2068.7l16 16M385.3 2068.7l-16 16M377.5 2062.2l16 16M393.5 2062.2l-16 16M385.6 2053.7l16 16M401.6 2053.7l-16 16M393.8 2050.9l16 16M409.8 2050.9l-16 16M402 2040.4l16 16M418 2040.4l-16 16M410.1 2028.7l16 16M426.1 2028.7l-16 16M418.3 2031.1l16 16M434.3 2031.1l-16 16M426.4 2019.8l16 16M442.4 2019.8l-16 16M434.6 2012.1l16 16M450.6 2012.1l-16 16M442.8 2007.2l16 16M458.8 2007.2l-16 16M450.9 1997.6l16 16M466.9 1997.6l-16 16M459.1 1989.3l16 16M475.1 1989.3l-16 16M467.3 1982.6l16 16M483.3 1982.6l-16 16M475.4 1974.7l16 16M491.4 1974.7l-16 16M483.6 1971.5l16 16M499.6 1971.5l-16 16M491.8 1961.6l16 16M507.8 1961.6l-16 16M499.9 1960.4l16 16M515.9 1960.4l-16 16M508.1 1956.9l16 16M524.1 1956.9l-16 16M516.2 1943.9l16 16M532.2 1943.9l-16 16M524.4 1945.5l16 16M540.4 1945.5l-16 16M532.6 1940.5l16 16M548.6 1940.5l-16 16M540.7 1939.1l16 16M556.7 1939.1l-16 16M548.9 1928.6l16 16M564.9 1928.6l-16 16M557.1 1928.5l16 16M573.1 1928.5l-16 16M565.2 1923.2l16 16M581.2 1923.2l-16 16M573.4 1914.9l16 16M589.4 1914.9l-16 16M581.5 1911.7l16 16M597.5 1911.7l-16 16M589.7 1911.8l16 16M605.7 1911.8l-16 16M597.9 1904.4l16 16M613.9 1904.4l-16 16M606 1901.4l16 16M622 1901.4l-16 16M614.2 1899.8l16 16M630.2 1899.8l-16 16M622.4 1898.9l16 16M638.4 1898.9l-16 16M630.5 1891.5l16 16M646.5 1891.5l-16 16M638.7 1894.4l16 16M654.7 1894.4l-16 16M646.8 1885.4l16 16M662.8 1885.4l-16 16M655 1883.5l16 16M671 1883.5l-16 16M663.2 1884l16 16M679.2 1884l-16 16M671.3 1880.4l16 16M687.3 1880.4l-16 16M679.5 1869.3l16 16M695.5 1869.3l-16 16M687.6 1875.7l16 16M703.6 1875.7l-16 16M695.8 1867.6l16 16M711.8 1867.6l-16 16M704 1865.8l16 16M720 1865.8l-16 16M712.1 1860.5l16 16M728.1 1860.5l-16 16M720.3 1858.1l16 16M736.3 1858.1l-16 16M728.5 1853.7l16 16M744.5 1853.7l-16 16M736.6 1851.8l16 16M752.6 1851.8l-16 16M744.8 1851.7l16 16M760.8 1851.7l-16 16M753 1853.6l16 16M769 1853.6l-16 16M761.1 1848.1l16 16M777.1 1848.1l-16 16M769.3 1843.6l16 16M785.3 1843.6l-16 16M777.4 1841.7l16 16M793.4 1841.7l-16 16M785.6 1837.8l16 16M801.6 1837.8l-16 16M793.8 1839.9l16 16M809.8 1839.9l-16 16M801.9 1841l16 16M817.9 1841l-16 16M810.1 1837.1l16 16M826.1 1837.1l-16 16M818.2 1832.7l16 16M834.2 1832.7l-16 16M826.4 1828.5l16 16M842.4 1828.5l-16 16M834.6 1826.3l16 16M850.6 1826.3l-16 16M842.7 1824.7l16 16M858.7 1824.7l-16 16M850.9 1828.5l16 16M866.9 1828.5l-16 16M859.1 1823.9l16 16M875.1 1823.9l-16 16M867.2 1818.8l16 16M883.2 1818.8l-16 16M875.4 1817.6l16 16M891.4 1817.6l-16 16M883.6 1814.2l16 16M899.6 1814.2l-16 16M891.7 1819l16 16M907.7 1819l-16 16M899.9 1812.3l16 16M915.9 1812.3l-16 16M908 1817.9l16 16M924 1817.9l-16 16M916.2 1813.6l16 16M932.2 1813.6l-16 16M924.4 1811l16 16M940.4 1811l-16 16M932.5 1811.4l16 16M948.5 1811.4l-16 16M940.7 1807l16 16M956.7 1807l-16 16M948.9 1809.5l16 16M964.9 1809.5l-16 16M957 1808.2l16 16M973 1808.2l-16 16M965.2 1805.8l16 16M981.2 1805.8l-16 16M973.3 1810.2l16 16M989.3 1810.2l-16 16M981.5 1803l16 16M997.5 1803l-16 16" fill="none" stroke="#000080" stroke-width="1.3"/>
<path d="M173.2 2408.3 181.4 2399.3 189.6 2380.8 197.7 2364.4 205.9 2339.7 214.1 2327.7 222.2 2307.8 230.4 2291.7 238.6 2279.1 246.7 2256.5 254.9 2243.5 263 2226.5 271.2 2212.1 279.4 2205.8 287.5 2189.2 295.7 2180.9 303.9 2167.6 312 2162.9 320.2 2155.1 328.3 2142.3 336.5 2135.9 344.7 2127.9 352.8 2117.6 361 2108.7 369.2 2103.8 377.3 2097.3 385.5 2090.8 393.6 2085 401.8 2079.6 410 2072.1 418.1 2066.5 426.3 2059.9 434.4 2053.8 442.6 2049.8 450.8 2044.4 458.9 2039.1 467.1 2037.5 475.3 2033.2 483.4 2028.1 491.6 2026.3 499.8 2022.6 507.9 2017.9 516.1 2010.9 524.2 2009.3 532.4 2006.9 540.6 2003.7 548.7 1998.9 556.9 1991.5 565.1 1995.4 573.2 1987.7 581.4 1985.8 589.5 1982.1 597.7 1984.5 605.9 1976.5 614 1976 622.2 1976.7 630.4 1974.6 638.5 1975 646.7 1971.7 654.8 1970.4 663 1966.3 671.2 1965.8 679.3 1964.9 687.5 1961.3 695.6 1959.7 703.8 1958.5 712 1960.6 720.1 1953.1 728.3 1956.3 736.5 1954.3 744.6 1950.7 752.8 1947.9 761 1944.4 769.1 1949.8 777.3 1941.5 785.4 1939.9 793.6 1943.3 801.8 1941.5 809.9 1941.2 818.1 1940.2 826.2 1940.8 834.4 1940.4 842.6 1936.2 850.7 1934.2 858.9 1930.3 867.1 1935.2 875.2 1935.7 883.4 1931 891.6 1931.7 899.7 1929.3 907.9 1930.5 916 1932 924.2 1930.3 932.4 1926.5 940.5 1927.3 948.7 1929.8 956.9 1925.3 965 1930.3 973.2 1928 981.3 1926.2 989.5 1929.6" fill="none" stroke="#000080" stroke-width="1.0" stroke-linejoin="round" opacity="1.0"/>
<path d="M173.2 2397.8l10.5 10.5l-10.5 10.5l-10.5 -10.5zM181.4 2388.8l10.5 10.5l-10.5 10.5l-10.5 -10.5zM189.6 2370.3l10.5 10.5l-10.5 10.5l-10.5 -10.5zM197.7 2353.9l10.5 10.5l-10.5 10.5l-10.5 -10.5zM205.9 2329.2l10.5 10.5l-10.5 10.5l-10.5 -10.5zM214.1 2317.2l10.5 10.5l-10.5 10.5l-10.5 -10.5zM222.2 2297.3l10.5 10.5l-10.5 10.5l-10.5 -10.5zM230.4 2281.2l10.5 10.5l-10.5 10.5l-10.5 -10.5zM238.6 2268.6l10.5 10.5l-10.5 10.5l-10.5 -10.5zM246.7 2246l10.5 10.5l-10.5 10.5l-10.5 -10.5zM254.9 2233l10.5 10.5l-10.5 10.5l-10.5 -10.5zM263 2216l10.5 10.5l-10.5 10.5l-10.5 -10.5zM271.2 2201.6l10.5 10.5l-10.5 10.5l-10.5 -10.5zM279.4 2195.3l10.5 10.5l-10.5 10.5l-10.5 -10.5zM287.5 2178.7l10.5 10.5l-10.5 10.5l-10.5 -10.5zM295.7 2170.4l10.5 10.5l-10.5 10.5l-10.5 -10.5zM303.9 2157.1l10.5 10.5l-10.5 10.5l-10.5 -10.5zM312 2152.4l10.5 10.5l-10.5 10.5l-10.5 -10.5zM320.2 2144.6l10.5 10.5l-10.5 10.5l-10.5 -10.5zM328.3 2131.8l10.5 10.5l-10.5 10.5l-10.5 -10.5zM336.5 2125.4l10.5 10.5l-10.5 10.5l-10.5 -10.5zM344.7 2117.4l10.5 10.5l-10.5 10.5l-10.5 -10.5zM352.8 2107.1l10.5 10.5l-10.5 10.5l-10.5 -10.5zM361 2098.2l10.5 10.5l-10.5 10.5l-10.5 -10.5zM369.2 2093.3l10.5 10.5l-10.5 10.5l-10.5 -10.5zM377.3 2086.8l10.5 10.5l-10.5 10.5l-10.5 -10.5zM385.5 2080.3l10.5 10.5l-10.5 10.5l-10.5 -10.5zM393.6 2074.5l10.5 10.5l-10.5 10.5l-10.5 -10.5zM401.8 2069.1l10.5 10.5l-10.5 10.5l-10.5 -10.5zM410 2061.6l10.5 10.5l-10.5 10.5l-10.5 -10.5zM418.1 2056l10.5 10.5l-10.5 10.5l-10.5 -10.5zM426.3 2049.4l10.5 10.5l-10.5 10.5l-10.5 -10.5zM434.4 2043.3l10.5 10.5l-10.5 10.5l-10.5 -10.5zM442.6 2039.3l10.5 10.5l-10.5 10.5l-10.5 -10.5zM450.8 2033.9l10.5 10.5l-10.5 10.5l-10.5 -10.5zM458.9 2028.6l10.5 10.5l-10.5 10.5l-10.5 -10.5zM467.1 2027l10.5 10.5l-10.5 10.5l-10.5 -10.5zM475.3 2022.7l10.5 10.5l-10.5 10.5l-10.5 -10.5zM483.4 2017.6l10.5 10.5l-10.5 10.5l-10.5 -10.5zM491.6 2015.8l10.5 10.5l-10.5 10.5l-10.5 -10.5zM499.8 2012.1l10.5 10.5l-10.5 10.5l-10.5 -10.5zM507.9 2007.4l10.5 10.5l-10.5 10.5l-10.5 -10.5zM516.1 2000.4l10.5 10.5l-10.5 10.5l-10.5 -10.5zM524.2 1998.8l10.5 10.5l-10.5 10.5l-10.5 -10.5zM532.4 1996.4l10.5 10.5l-10.5 10.5l-10.5 -10.5zM540.6 1993.2l10.5 10.5l-10.5 10.5l-10.5 -10.5zM548.7 1988.4l10.5 10.5l-10.5 10.5l-10.5 -10.5zM556.9 1981l10.5 10.5l-10.5 10.5l-10.5 -10.5zM565.1 1984.9l10.5 10.5l-10.5 10.5l-10.5 -10.5zM573.2 1977.2l10.5 10.5l-10.5 10.5l-10.5 -10.5zM581.4 1975.3l10.5 10.5l-10.5 10.5l-10.5 -10.5zM589.5 1971.6l10.5 10.5l-10.5 10.5l-10.5 -10.5zM597.7 1974l10.5 10.5l-10.5 10.5l-10.5 -10.5zM605.9 1966l10.5 10.5l-10.5 10.5l-10.5 -10.5zM614 1965.5l10.5 10.5l-10.5 10.5l-10.5 -10.5zM622.2 1966.2l10.5 10.5l-10.5 10.5l-10.5 -10.5zM630.4 1964.1l10.5 10.5l-10.5 10.5l-10.5 -10.5zM638.5 1964.5l10.5 10.5l-10.5 10.5l-10.5 -10.5zM646.7 1961.2l10.5 10.5l-10.5 10.5l-10.5 -10.5zM654.8 1959.9l10.5 10.5l-10.5 10.5l-10.5 -10.5zM663 1955.8l10.5 10.5l-10.5 10.5l-10.5 -10.5zM671.2 1955.3l10.5 10.5l-10.5 10.5l-10.5 -10.5zM679.3 1954.4l10.5 10.5l-10.5 10.5l-10.5 -10.5zM687.5 1950.8l10.5 10.5l-10.5 10.5l-10.5 -10.5zM695.6 1949.2l10.5 10.5l-10.5 10.5l-10.5 -10.5zM703.8 1948l10.5 10.5l-10.5 10.5l-10.5 -10.5zM712 1950.1l10.5 10.5l-10.5 10.5l-10.5 -10.5zM720.1 1942.6l10.5 10.5l-10.5 10.5l-10.5 -10.5zM728.3 1945.8l10.5 10.5l-10.5 10.5l-10.5 -10.5zM736.5 1943.8l10.5 10.5l-10.5 10.5l-10.5 -10.5zM744.6 1940.2l10.5 10.5l-10.5 10.5l-10.5 -10.5zM752.8 1937.4l10.5 10.5l-10.5 10.5l-10.5 -10.5zM761 1933.9l10.5 10.5l-10.5 10.5l-10.5 -10.5zM769.1 1939.3l10.5 10.5l-10.5 10.5l-10.5 -10.5zM777.3 1931l10.5 10.5l-10.5 10.5l-10.5 -10.5zM785.4 1929.4l10.5 10.5l-10.5 10.5l-10.5 -10.5zM793.6 1932.8l10.5 10.5l-10.5 10.5l-10.5 -10.5zM801.8 1931l10.5 10.5l-10.5 10.5l-10.5 -10.5zM809.9 1930.7l10.5 10.5l-10.5 10.5l-10.5 -10.5zM818.1 1929.7l10.5 10.5l-10.5 10.5l-10.5 -10.5zM826.2 1930.3l10.5 10.5l-10.5 10.5l-10.5 -10.5zM834.4 1929.9l10.5 10.5l-10.5 10.5l-10.5 -10.5zM842.6 1925.7l10.5 10.5l-10.5 10.5l-10.5 -10.5zM850.7 1923.7l10.5 10.5l-10.5 10.5l-10.5 -10.5zM858.9 1919.8l10.5 10.5l-10.5 10.5l-10.5 -10.5zM867.1 1924.7l10.5 10.5l-10.5 10.5l-10.5 -10.5zM875.2 1925.2l10.5 10.5l-10.5 10.5l-10.5 -10.5zM883.4 1920.5l10.5 10.5l-10.5 10.5l-10.5 -10.5zM891.6 1921.2l10.5 10.5l-10.5 10.5l-10.5 -10.5zM899.7 1918.8l10.5 10.5l-10.5 10.5l-10.5 -10.5zM907.9 1920l10.5 10.5l-10.5 10.5l-10.5 -10.5zM916 1921.5l10.5 10.5l-10.5 10.5l-10.5 -10.5zM924.2 1919.8l10.5 10.5l-10.5 10.5l-10.5 -10.5zM932.4 1916l10.5 10.5l-10.5 10.5l-10.5 -10.5zM940.5 1916.8l10.5 10.5l-10.5 10.5l-10.5 -10.5zM948.7 1919.3l10.5 10.5l-10.5 10.5l-10.5 -10.5zM956.9 1914.8l10.5 10.5l-10.5 10.5l-10.5 -10.5zM965 1919.8l10.5 10.5l-10.5 10.5l-10.5 -10.5zM973.2 1917.5l10.5 10.5l-10.5 10.5l-10.5 -10.5zM981.3 1915.7l10.5 10.5l-10.5 10.5l-10.5 -10.5zM989.5 1919.1l10.5 10.5l-10.5 10.5l-10.5 -10.5z" fill="#000080"/></g>
<path d="M173.25 1752.0H989.5V2423.5H173.25Z" fill="none" stroke="#000" stroke-width="2.6" stroke-linejoin="miter"/>
<path d="M254.9 2423.5v7M336.5 2423.5v13M418.1 2423.5v7M499.8 2423.5v13M581.4 2423.5v7M663 2423.5v13M744.6 2423.5v7M826.2 2423.5v13M907.9 2423.5v7M989.5 2423.5v13M173.2 2423.5h-13M173.2 2386.2h-7M173.2 2348.9h-13M173.2 2311.6h-7M173.2 2274.3h-13M173.2 2237h-7M173.2 2199.7h-13M173.2 2162.4h-7M173.2 2125.1h-13M173.2 2087.8h-7M173.2 2050.4h-13M173.2 2013.1h-7M173.2 1975.8h-13M173.2 1938.5h-7M173.2 1901.2h-13M173.2 1863.9h-7M173.2 1826.6h-13M173.2 1789.3h-7M173.2 1752h-13" stroke="#000" stroke-width="2.6" fill="none"/>
<path d="M173.2 2424.8v12" stroke="#9a9a9a" stroke-width="1.2"/>
<text transform="translate(151.2 2436.3) scale(1 1.04)" text-anchor="end" font-weight="bold" font-size="42" font-family="Liberation Serif, serif">0.0</text>
<text transform="translate(151.2 2361.7) scale(1 1.04)" text-anchor="end" font-weight="bold" font-size="42" font-family="Liberation Serif, serif">0.1</text>
<text transform="translate(151.2 2287.1) scale(1 1.04)" text-anchor="end" font-weight="bold" font-size="42" font-family="Liberation Serif, serif">0.2</text>
<text transform="translate(151.2 2212.5) scale(1 1.04)" text-anchor="end" font-weight="bold" font-size="42" font-family="Liberation Serif, serif">0.3</text>
<text transform="translate(151.2 2137.9) scale(1 1.04)" text-anchor="end" font-weight="bold" font-size="42" font-family="Liberation Serif, serif">0.4</text>
<text transform="translate(151.2 2063.2) scale(1 1.04)" text-anchor="end" font-weight="bold" font-size="42" font-family="Liberation Serif, serif">0.5</text>
<text transform="translate(151.2 1988.6) scale(1 1.04)" text-anchor="end" font-weight="bold" font-size="42" font-family="Liberation Serif, serif">0.6</text>
<text transform="translate(151.2 1914) scale(1 1.04)" text-anchor="end" font-weight="bold" font-size="42" font-family="Liberation Serif, serif">0.7</text>
<text transform="translate(151.2 1839.4) scale(1 1.04)" text-anchor="end" font-weight="bold" font-size="42" font-family="Liberation Serif, serif">0.8</text>
<text transform="translate(151.2 1764.8) scale(1 1.04)" text-anchor="end" font-weight="bold" font-size="42" font-family="Liberation Serif, serif">0.9</text>
<text transform="translate(172.8 2478.9) scale(1 1.04)" text-anchor="middle" font-weight="bold" font-size="42" font-family="Liberation Serif, serif">0</text>
<text transform="translate(336 2478.9) scale(1 1.04)" text-anchor="middle" font-weight="bold" font-size="42" font-family="Liberation Serif, serif">1</text>
<text transform="translate(499.2 2478.9) scale(1 1.04)" text-anchor="middle" font-weight="bold" font-size="42" font-family="Liberation Serif, serif">2</text>
<text transform="translate(662.5 2478.9) scale(1 1.04)" text-anchor="middle" font-weight="bold" font-size="42" font-family="Liberation Serif, serif">3</text>
<text transform="translate(825.8 2478.9) scale(1 1.04)" text-anchor="middle" font-weight="bold" font-size="42" font-family="Liberation Serif, serif">4</text>
<text transform="translate(989 2478.9) scale(1 1.04)" text-anchor="middle" font-weight="bold" font-size="42" font-family="Liberation Serif, serif">5</text>
<text x="582.4" y="2549.1" text-anchor="middle" font-weight="bold" font-size="42" font-family="Liberation Serif, serif">Time (s)</text>
<text transform="translate(41.5 2105.8) rotate(-90)" text-anchor="middle" font-weight="bold" font-size="42" font-family="Liberation Serif, serif">CO/[CO+CO<tspan font-size="25.5" dy="16.5">2</tspan><tspan dy="-16.5">]</tspan></text>
<text x="4.2" y="1765.2" font-weight="bold" font-size="42" text-anchor="start" font-family="Liberation Serif, serif">(c)</text>
<text x="289.7" y="1870.2" font-weight="bold" font-size="39.4" text-anchor="start" font-family="Liberation Serif, serif">Decreasing pulse</text>
<text x="299.8" y="1919" font-weight="bold" font-size="39" text-anchor="start" font-family="Liberation Serif, serif">duration</text>
<path d="M494.2 1935.6L574.4 2073.8" stroke="#111" stroke-width="0.85"/><path d="M586.2 2094L557.7 2068.9L574.4 2073.8L578.5 2056.8Z" fill="#000"/>
<path d="M367 2244.9H396" stroke="#3A8CF6" stroke-width="3"/>
<path d="M308.6 2244.9H337" stroke="#8CC0F8" stroke-width="1"/><path d="M352 2236.9v16M344 2244.9h16" fill="#fff" stroke="#3A8CF6" stroke-width="1.3"/><text x="404.2" y="2257.4" font-size="39.7" font-family="Liberation Serif, serif">2 Torr, 40 mA 50x1-10 ms On-Off</text>
<path d="M308.6 2292.7H396" stroke="#4848A0" stroke-width="1"/><path d="M352 2282.2l10.5 10.5l-10.5 10.5l-10.5 -10.5z" fill="#000080"/><text x="404.2" y="2305.2" font-size="39.7" font-family="Liberation Serif, serif">2 Torr, 40 mA 10x 5-10 ms On-Off</text>
<path d="M308.6 2340.6H396" stroke="#4848A0" stroke-width="1"/><path d="M344 2332.6l16 16M360 2332.6l-16 16" fill="#fff" stroke="#000080" stroke-width="1.2"/><text x="404.2" y="2353.1" font-size="39.7" font-family="Liberation Serif, serif">2 Torr, 40 mA 1x50-10 ms On-Off</text>
</svg></body></html>
